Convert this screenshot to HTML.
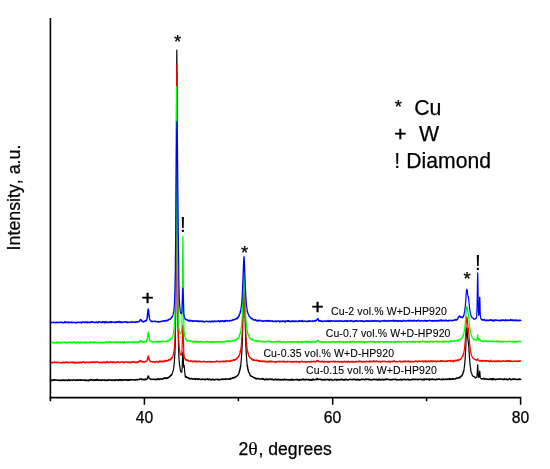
<!DOCTYPE html>
<html><head><meta charset="utf-8"><title>XRD</title>
<style>
html,body{margin:0;padding:0;background:#fff;}
svg{display:block;}
text{font-family:"Liberation Sans",sans-serif;fill:#000;stroke:#000;stroke-width:0.25px;font-kerning:none;}
.sm text{stroke-width:0.1px;}
.pl text{stroke-width:0.5px;}
.ex text{stroke-width:0;}
</style></head><body>
<svg width="550" height="469" viewBox="0 0 550 469">
<rect width="550" height="469" fill="#fff"/>
<g id="curves">
<polyline points="50.3,380.3 50.5,380.3 50.7,380.2 50.9,380.0 51.0,380.0 51.2,380.0 51.4,380.3 51.6,380.5 51.8,380.3 52.0,380.2 52.2,380.3 52.4,380.4 52.6,380.2 52.8,380.1 52.9,380.2 53.1,380.2 53.3,380.1 53.5,379.8 53.7,379.7 53.9,379.6 54.1,379.7 54.2,379.8 54.4,380.0 54.6,380.2 54.8,380.3 55.0,379.9 55.2,379.7 55.4,379.9 55.6,380.2 55.8,380.1 56.0,379.9 56.1,379.9 56.3,379.9 56.5,380.1 56.7,380.3 56.9,380.2 57.1,380.3 57.3,380.3 57.5,380.2 57.6,380.2 57.8,380.3 58.0,380.1 58.2,380.0 58.4,380.3 58.6,380.3 58.8,380.2 59.0,380.2 59.1,380.3 59.3,380.4 59.5,380.6 59.7,380.5 59.9,380.1 60.1,380.2 60.3,380.3 60.5,380.4 60.6,380.3 60.8,380.4 61.0,380.5 61.2,380.5 61.4,380.3 61.6,380.1 61.8,380.2 62.0,380.1 62.2,380.0 62.3,380.0 62.5,380.2 62.7,380.5 62.9,380.4 63.1,380.0 63.3,380.0 63.5,380.0 63.7,379.9 63.9,379.9 64.0,380.3 64.2,380.5 64.4,380.5 64.6,380.2 64.8,380.1 65.0,380.3 65.2,380.4 65.4,380.3 65.5,380.2 65.7,380.2 65.9,380.2 66.1,380.0 66.3,380.0 66.5,380.0 66.7,380.3 66.9,380.5 67.0,380.5 67.2,380.4 67.4,380.3 67.6,380.4 67.8,380.4 68.0,380.4 68.2,380.2 68.4,380.1 68.6,379.9 68.7,379.7 68.9,379.6 69.1,379.8 69.3,380.0 69.5,380.4 69.7,380.5 69.9,380.3 70.1,380.0 70.2,380.2 70.4,380.3 70.6,380.2 70.8,380.2 71.0,380.4 71.2,380.3 71.4,380.1 71.6,380.1 71.8,380.1 71.9,380.1 72.1,380.0 72.3,380.2 72.5,380.3 72.7,380.4 72.9,380.2 73.1,380.1 73.3,379.9 73.5,379.7 73.6,379.8 73.8,379.9 74.0,380.0 74.2,379.9 74.4,380.1 74.6,380.0 74.8,380.2 75.0,380.3 75.1,380.1 75.3,380.1 75.5,380.4 75.7,380.6 75.9,380.3 76.1,380.1 76.3,380.0 76.5,380.1 76.7,380.2 76.8,380.2 77.0,380.0 77.2,380.0 77.4,379.8 77.6,380.0 77.8,380.3 78.0,380.4 78.2,380.4 78.3,380.2 78.5,380.0 78.7,380.0 78.9,380.1 79.1,380.1 79.3,380.1 79.5,379.9 79.7,379.8 79.8,380.1 80.0,380.3 80.2,380.1 80.4,380.0 80.6,380.3 80.8,380.3 81.0,380.1 81.2,379.9 81.3,379.8 81.5,379.9 81.7,380.1 81.9,380.3 82.1,380.1 82.3,380.1 82.5,380.1 82.7,380.1 82.9,380.0 83.0,379.8 83.2,380.0 83.4,380.2 83.6,380.3 83.8,380.2 84.0,380.2 84.2,380.0 84.4,380.1 84.5,380.2 84.7,380.2 84.9,380.1 85.1,380.3 85.3,380.5 85.5,380.5 85.7,380.3 85.9,380.0 86.1,380.0 86.2,380.3 86.4,380.4 86.6,380.3 86.8,380.3 87.0,380.5 87.2,380.5 87.4,380.4 87.6,380.4 87.8,380.2 87.9,380.2 88.1,380.2 88.3,380.5 88.5,380.6 88.7,380.8 88.9,380.5 89.1,379.9 89.3,379.8 89.5,380.0 89.6,380.1 89.8,380.1 90.0,380.1 90.2,379.7 90.4,379.6 90.6,380.0 90.8,380.2 91.0,380.1 91.1,380.0 91.3,379.8 91.5,379.8 91.7,379.8 91.9,379.8 92.1,379.8 92.3,380.0 92.5,380.3 92.6,380.1 92.8,379.9 93.0,379.8 93.2,379.8 93.4,379.9 93.6,380.0 93.8,380.1 94.0,380.2 94.2,380.5 94.3,380.4 94.5,380.2 94.7,380.1 94.9,380.2 95.1,380.0 95.3,379.8 95.5,380.0 95.7,380.2 95.8,380.2 96.0,380.1 96.2,380.2 96.4,380.3 96.6,380.0 96.8,379.7 97.0,379.5 97.2,379.3 97.3,379.3 97.5,379.8 97.7,380.3 97.9,380.2 98.1,379.8 98.3,380.0 98.5,380.2 98.7,380.3 98.9,380.2 99.0,380.1 99.2,380.2 99.4,380.3 99.6,380.4 99.8,380.1 100.0,380.0 100.2,380.0 100.4,380.2 100.5,380.1 100.7,380.0 100.9,379.9 101.1,379.9 101.3,380.1 101.5,380.4 101.7,380.5 101.9,380.3 102.0,380.2 102.2,380.0 102.4,379.7 102.6,379.8 102.8,380.1 103.0,380.0 103.2,379.9 103.4,379.9 103.6,380.2 103.8,380.3 103.9,380.3 104.1,380.3 104.3,380.3 104.5,380.1 104.7,379.8 104.9,379.9 105.1,380.3 105.2,380.6 105.4,380.5 105.6,380.3 105.8,380.2 106.0,380.1 106.2,380.1 106.4,380.0 106.6,380.3 106.8,380.4 107.0,380.4 107.1,380.1 107.3,379.9 107.5,380.1 107.7,380.4 107.9,380.4 108.1,380.1 108.3,379.9 108.5,379.8 108.6,380.1 108.8,380.2 109.0,380.1 109.2,380.0 109.4,380.0 109.6,379.9 109.8,379.8 110.0,379.7 110.2,380.0 110.3,380.0 110.5,380.1 110.7,380.3 110.9,380.4 111.1,380.1 111.3,380.0 111.5,380.0 111.7,380.0 111.8,380.0 112.0,380.3 112.2,380.5 112.4,380.2 112.6,379.9 112.8,379.9 113.0,379.9 113.2,379.8 113.3,379.9 113.5,380.1 113.7,380.2 113.9,380.3 114.1,380.5 114.3,380.4 114.5,380.4 114.7,380.5 114.8,380.2 115.0,379.8 115.2,379.8 115.4,380.1 115.6,380.4 115.8,380.3 116.0,379.9 116.2,379.7 116.4,379.9 116.5,380.0 116.7,380.1 116.9,380.1 117.1,380.1 117.3,380.0 117.5,380.0 117.7,380.1 117.9,380.1 118.0,380.4 118.2,380.5 118.4,380.4 118.6,379.9 118.8,379.8 119.0,379.7 119.2,379.6 119.4,379.7 119.6,380.1 119.8,380.2 119.9,379.9 120.1,379.7 120.3,379.7 120.5,379.9 120.7,380.3 120.9,380.5 121.1,380.2 121.2,379.8 121.4,379.7 121.6,379.9 121.8,379.8 122.0,379.8 122.2,379.8 122.4,380.0 122.6,380.2 122.8,380.5 123.0,380.3 123.1,380.1 123.3,380.0 123.5,380.0 123.7,379.9 123.9,379.7 124.1,379.6 124.3,379.7 124.5,380.0 124.6,380.1 124.8,380.1 125.0,380.0 125.2,379.7 125.4,379.7 125.6,380.0 125.8,380.0 126.0,380.1 126.1,380.2 126.3,380.0 126.5,379.7 126.7,379.8 126.9,380.1 127.1,379.9 127.3,379.9 127.5,380.1 127.7,380.4 127.8,380.2 128.0,380.0 128.2,379.7 128.4,380.0 128.6,380.3 128.8,380.4 129.0,380.2 129.2,380.1 129.3,379.7 129.5,379.6 129.7,379.8 129.9,379.9 130.1,380.0 130.3,380.0 130.5,380.0 130.7,379.7 130.8,379.7 131.0,379.8 131.2,379.8 131.4,379.7 131.6,379.7 131.8,379.7 132.0,379.6 132.2,379.6 132.4,379.9 132.5,379.9 132.7,379.8 132.9,379.7 133.1,379.7 133.3,379.8 133.5,379.9 133.7,380.1 133.9,380.0 134.1,380.0 134.2,379.9 134.4,379.8 134.6,379.8 134.8,379.9 135.0,380.0 135.2,380.0 135.4,379.8 135.6,379.7 135.7,379.7 135.9,380.0 136.1,380.0 136.3,379.8 136.5,379.6 136.7,379.6 136.9,379.6 137.1,379.5 137.2,379.4 137.4,379.8 137.6,379.9 137.8,379.6 138.0,379.4 138.2,379.4 138.4,379.6 138.6,379.6 138.8,379.6 138.9,379.6 139.1,379.6 139.3,379.6 139.5,379.5 139.7,379.2 139.9,378.8 140.1,378.9 140.3,379.1 140.4,379.1 140.6,378.8 140.8,378.9 141.0,379.0 141.2,379.3 141.4,379.4 141.6,379.2 141.8,378.9 141.9,379.0 142.1,379.3 142.3,379.7 142.5,379.8 142.7,379.4 142.9,379.3 143.1,379.6 143.3,379.6 143.5,379.4 143.7,379.3 143.8,379.7 144.0,379.6 144.2,379.6 144.4,379.3 144.6,379.2 144.8,379.4 145.0,379.9 145.2,379.9 145.3,379.5 145.5,379.1 145.7,379.0 145.9,379.2 146.1,379.4 146.3,379.4 146.5,379.1 146.7,379.0 146.8,378.9 147.0,379.0 147.2,379.0 147.4,378.6 147.6,377.8 147.8,376.9 148.0,376.4 148.2,376.0 148.3,375.9 148.3,375.9 148.5,376.2 148.7,376.8 148.9,377.5 149.1,377.9 149.3,378.2 149.5,378.4 149.7,378.6 149.9,378.8 150.1,379.1 150.2,379.2 150.4,379.2 150.6,379.1 150.8,379.1 151.0,379.1 151.2,379.1 151.4,379.1 151.6,379.1 151.7,379.2 151.9,379.5 152.1,379.4 152.3,379.3 152.5,379.2 152.7,379.2 152.9,379.2 153.1,379.3 153.2,379.3 153.4,379.3 153.6,379.4 153.8,379.5 154.0,379.4 154.2,379.4 154.4,379.3 154.6,379.3 154.8,379.3 154.9,379.5 155.1,379.5 155.3,379.4 155.5,379.3 155.7,379.3 155.9,379.5 156.1,379.5 156.3,379.3 156.4,379.2 156.6,379.4 156.8,379.7 157.0,379.7 157.2,379.3 157.4,379.1 157.6,379.2 157.8,379.0 157.9,378.8 158.1,378.8 158.3,378.8 158.5,378.7 158.7,379.1 158.9,379.3 159.1,379.3 159.3,379.4 159.5,379.7 159.6,379.6 159.8,379.2 160.0,378.9 160.2,378.7 160.4,378.8 160.6,379.1 160.8,379.1 161.0,379.2 161.2,379.1 161.3,378.9 161.5,378.9 161.7,379.1 161.9,379.2 162.1,379.2 162.3,379.0 162.5,378.8 162.7,378.7 162.8,378.4 163.0,378.4 163.2,378.6 163.4,378.8 163.6,378.5 163.8,378.3 164.0,378.2 164.2,378.3 164.3,378.0 164.5,377.9 164.7,378.2 164.9,378.6 165.1,378.4 165.3,378.2 165.5,378.3 165.7,378.0 165.8,377.7 166.0,377.8 166.2,378.2 166.4,378.4 166.6,378.5 166.8,378.3 167.0,378.1 167.2,378.0 167.4,377.8 167.6,377.6 167.7,377.6 167.9,377.9 168.1,377.9 168.3,377.5 168.5,377.2 168.7,377.3 168.9,377.3 169.1,377.3 169.2,377.0 169.4,376.7 169.6,376.4 169.8,376.5 170.0,376.6 170.2,376.3 170.4,375.8 170.6,375.6 170.8,375.5 170.9,375.2 171.1,375.0 171.3,375.1 171.5,375.0 171.7,374.6" fill="none" stroke="#000000" stroke-width="1.45" stroke-linejoin="round" stroke-linecap="round"/>
<polyline points="171.3,375.1 171.5,375.0 171.7,374.6 171.9,374.2 172.1,373.9 172.2,373.6 172.4,373.0 172.6,372.3 172.8,371.7 173.0,371.1 173.2,370.5 173.4,369.8 173.6,368.7 173.8,367.4 173.9,366.0 174.1,364.5 174.3,362.6 174.5,359.9 174.7,356.8 174.9,353.2 175.1,348.2 175.3,341.4 175.4,331.4 175.6,317.9 175.8,298.4 176.0,269.1 176.2,225.3 176.4,167.3 176.5,125.4 176.6,95.2 176.8,50.8 176.8,50.0 177.0,75.8 177.0,88.5 177.2,144.6 177.3,208.0 177.5,257.1 177.7,290.1 177.9,312.1 178.1,327.1 178.3,337.6 178.5,345.2 178.7,351.1 178.8,355.5 179.0,358.7 179.2,361.3 179.4,363.7 179.6,365.2 179.8,366.4 180.0,367.5 180.2,369.1 180.3,370.3 180.5,370.9 180.7,371.1 180.9,371.8 181.1,372.2 181.3,372.1 181.5,372.1 181.7,372.1 181.8,371.5 182.0,369.9 182.2,367.3 182.4,363.4 182.6,358.3 182.8,353.5 182.9,352.2 183.0,352.5 183.2,356.8 183.4,362.2 183.6,365.9 183.7,367.2 183.9,366.5 184.1,365.5 184.3,366.3 184.5,369.0 184.7,371.5 184.9,373.6 185.1,374.7 185.2,375.5 185.4,376.3 185.6,376.9" fill="none" stroke="#000000" stroke-width="1.2" stroke-linejoin="round" stroke-linecap="round"/>
<polyline points="185.4,376.3 185.6,376.9 185.8,377.2 186.0,377.4 186.2,377.1 186.4,376.8 186.6,376.8 186.7,377.1 186.9,377.3 187.1,377.4 187.3,377.4 187.5,377.4 187.7,377.7 187.9,377.8 188.1,378.0 188.2,378.0 188.4,378.0 188.6,378.0 188.8,377.8 189.0,377.9 189.2,378.3 189.4,378.9 189.6,379.1 189.8,379.0 189.9,378.6 190.1,378.6 190.3,378.7 190.5,378.7 190.7,378.5 190.9,378.6 191.1,378.6 191.3,378.6 191.4,378.5 191.6,378.5 191.8,378.8 192.0,379.1 192.2,379.0 192.4,378.8 192.6,379.0 192.8,378.9 193.0,378.7 193.1,378.8 193.3,379.1 193.5,379.1 193.7,379.2 193.9,379.2 194.1,379.0 194.3,378.9 194.5,379.1 194.7,379.0 194.8,378.8 195.0,378.6 195.2,379.0 195.4,379.2 195.6,379.4 195.8,379.2 196.0,379.1 196.2,379.0 196.3,379.1 196.5,379.1 196.7,379.1 196.9,378.8 197.1,378.7 197.3,378.7 197.5,378.8 197.7,379.0 197.8,379.2 198.0,379.5 198.2,379.5 198.4,379.2 198.6,378.9 198.8,378.8 199.0,378.9 199.2,379.0 199.3,379.1 199.5,379.0 199.7,379.0 199.9,379.2 200.1,379.4 200.3,379.4 200.5,379.5 200.7,379.5 200.9,379.6 201.1,379.6 201.2,379.6 201.4,379.5 201.6,379.3 201.8,379.1 202.0,379.1 202.2,379.3 202.4,379.2 202.6,379.4 202.7,379.5 202.9,379.5 203.1,379.0 203.3,378.9 203.5,379.1 203.7,379.3 203.9,379.3 204.1,379.3 204.2,379.4 204.4,379.4 204.6,379.4 204.8,379.5 205.0,379.9 205.2,379.9 205.4,379.5 205.6,379.1 205.8,379.3 205.9,379.3 206.1,379.3 206.3,379.2 206.5,379.3 206.7,379.2 206.9,379.1 207.1,379.0 207.3,378.8 207.4,378.9 207.6,379.2 207.8,379.4 208.0,379.2 208.2,379.1 208.4,379.3 208.6,379.6 208.8,379.7 208.9,379.4 209.1,379.4 209.3,379.4 209.5,379.3 209.7,379.1 209.9,379.4 210.1,379.7 210.3,379.8 210.5,379.6 210.7,379.6 210.8,379.5 211.0,379.5 211.2,379.7 211.4,380.0 211.6,379.8 211.8,379.5 212.0,379.4 212.2,379.7 212.3,379.7 212.5,379.3 212.7,379.1 212.9,379.2 213.1,379.4 213.3,379.6 213.5,379.8 213.7,379.8 213.8,379.5 214.0,379.5 214.2,379.7 214.4,380.0 214.6,379.9 214.8,379.6 215.0,379.7 215.2,379.7 215.3,379.5 215.5,379.4 215.7,379.6 215.9,379.6 216.1,379.5 216.3,379.4 216.5,379.4 216.7,379.4 216.9,379.3 217.1,379.2 217.2,379.4 217.4,379.5 217.6,379.3 217.8,379.3 218.0,379.4 218.2,379.3 218.4,379.2 218.6,379.4 218.7,379.7 218.9,380.2 219.1,380.0 219.3,379.7 219.5,379.5 219.7,379.5 219.9,379.6 220.1,379.5 220.2,379.4 220.4,379.4 220.6,379.6 220.8,379.6 221.0,379.5 221.2,379.3 221.4,379.4 221.6,379.5 221.8,379.5 221.9,379.3 222.1,379.0 222.3,378.9 222.5,379.3 222.7,379.5 222.9,379.4 223.1,379.4 223.3,379.4 223.4,379.2 223.6,379.0 223.8,379.2 224.0,379.2 224.2,379.2 224.4,379.2 224.6,379.1 224.8,379.0 224.9,379.2 225.1,379.1 225.3,378.8 225.5,379.0 225.7,379.4 225.9,379.4 226.1,379.2 226.3,379.2 226.5,379.2 226.6,379.0 226.8,379.0 227.0,379.0 227.2,378.8 227.4,378.8 227.6,378.9 227.8,378.9 228.0,378.8 228.2,378.9 228.3,379.1 228.5,379.1 228.7,379.2 228.9,379.2 229.1,379.3 229.3,379.2 229.5,379.0 229.7,378.7 229.8,379.0 230.0,379.2 230.2,378.9 230.4,378.3 230.6,378.2 230.8,378.6 231.0,378.8 231.2,378.7 231.3,378.6 231.5,378.6 231.7,378.5 231.9,378.5 232.1,378.2 232.3,378.0 232.5,377.9 232.7,378.2 232.8,378.1 233.0,378.0 233.2,377.8 233.4,377.8 233.6,377.6 233.8,377.3 234.0,377.3 234.2,377.5 234.4,377.8 234.6,377.7 234.7,377.6 234.9,377.5 235.1,377.4 235.3,377.2 235.5,377.3 235.7,377.1 235.9,376.8 236.1,376.6 236.2,376.5 236.4,376.3 236.6,376.2 236.8,376.1 237.0,376.0 237.2,375.7 237.4,375.5 237.6,375.3 237.8,375.1 237.9,375.0 238.1,374.9 238.3,374.7 238.5,374.3 238.7,373.8 238.9,373.0 239.1,372.5 239.2,372.2 239.4,371.6 239.6,370.9 239.8,370.0 240.0,369.1 240.2,368.1 240.4,367.2 240.6,366.1" fill="none" stroke="#000000" stroke-width="1.45" stroke-linejoin="round" stroke-linecap="round"/>
<polyline points="240.4,367.2 240.6,366.1 240.8,364.9 240.9,363.3 241.1,361.7 241.3,359.5 241.5,356.8 241.7,353.7 241.9,350.1 242.1,345.9 242.3,341.6 242.4,335.8 242.6,328.6 242.8,319.7 243.0,309.7 243.2,299.1 243.4,287.4 243.6,276.4 243.8,268.2 244.0,264.4 244.0,264.1 244.2,265.5 244.3,271.8 244.5,282.0 244.7,293.8 244.9,305.3 245.1,316.1 245.3,325.1 245.5,332.3 245.7,338.9 245.8,344.6 246.0,349.0 246.2,352.7 246.4,355.6 246.6,358.3 246.8,361.0 247.0,363.4 247.2,364.8 247.3,365.7 247.5,366.7" fill="none" stroke="#000000" stroke-width="1.2" stroke-linejoin="round" stroke-linecap="round"/>
<polyline points="247.3,365.7 247.5,366.7 247.7,368.1 247.9,369.1 248.1,369.8 248.3,370.5 248.5,371.5 248.7,372.1 248.8,372.3 249.0,372.5 249.2,372.8 249.4,373.1 249.6,373.6 249.8,374.2 250.0,374.7 250.2,375.2 250.4,375.7 250.5,375.7 250.7,375.7 250.9,376.0 251.1,376.2 251.3,376.1 251.5,376.1 251.7,376.2 251.9,376.5 252.1,376.5 252.2,376.5 252.4,376.5 252.6,376.9 252.8,377.1 253.0,377.3 253.2,377.4 253.4,377.6 253.6,377.5 253.7,377.4 253.9,377.4 254.1,377.7 254.3,377.8 254.5,377.9 254.7,377.7 254.9,377.9 255.1,378.2 255.2,378.2 255.4,378.3 255.6,378.8 255.8,378.8 256.0,378.4 256.2,378.5 256.4,379.0 256.6,378.9 256.8,378.6 256.9,378.4 257.1,378.4 257.3,378.4 257.5,378.6 257.7,378.7 257.9,378.6 258.1,378.4 258.3,378.4 258.4,378.5 258.6,378.6 258.8,378.8 259.0,379.0 259.2,379.1 259.4,379.0 259.6,379.0 259.8,378.9 259.9,378.9 260.1,379.0 260.3,378.9 260.5,379.0 260.7,379.1 260.9,379.1 261.1,378.8 261.3,378.8 261.5,378.9 261.6,378.9 261.8,379.1 262.0,379.1 262.2,378.8 262.4,378.5 262.6,378.5 262.8,378.7 263.0,379.0 263.1,379.4 263.3,379.3 263.5,378.9 263.7,379.1 263.9,379.5 264.1,379.5 264.3,379.4 264.5,379.7 264.7,380.0 264.9,379.8 265.0,379.5 265.2,379.4 265.4,379.4 265.6,379.1 265.8,379.0 266.0,379.1 266.2,379.1 266.4,379.2 266.5,379.6 266.7,379.7 266.9,379.5 267.1,379.2 267.3,379.4 267.5,379.6 267.7,379.6 267.9,379.3 268.1,379.0 268.2,378.9 268.4,379.1 268.6,379.4 268.8,379.4 269.0,379.2 269.2,379.2 269.4,379.4 269.6,379.5 269.7,379.4 269.9,379.1 270.1,378.9 270.3,379.2 270.5,379.3 270.7,379.2 270.9,379.2 271.1,379.4 271.2,379.3 271.4,379.3 271.6,379.4 271.8,379.5 272.0,379.2 272.2,379.1 272.4,379.1 272.6,379.3 272.8,379.3 272.9,379.6 273.1,379.8 273.3,379.7 273.5,379.6 273.7,379.8 273.9,380.0 274.1,380.0 274.3,379.9 274.4,379.6 274.6,379.6 274.8,379.5 275.0,379.4 275.2,379.3 275.4,379.4 275.6,379.2 275.8,379.1 275.9,379.2 276.1,379.5 276.3,379.8 276.5,379.8 276.7,379.6 276.9,379.4 277.1,379.4 277.3,379.5 277.5,379.6 277.6,379.9 277.8,380.0 278.0,379.6 278.2,379.2 278.4,379.1 278.6,379.1 278.8,379.3 279.0,379.7 279.1,379.6 279.3,379.4 279.5,379.7 279.7,379.9 279.9,379.6 280.1,379.4 280.3,379.5 280.5,379.7 280.7,379.9 280.8,380.0 281.0,380.1 281.2,380.1 281.4,380.1 281.6,379.7 281.8,379.4 282.0,379.4 282.2,379.6 282.4,379.7 282.5,379.7 282.7,379.5 282.9,379.6 283.1,379.8 283.3,379.9 283.5,379.8 283.7,379.9 283.9,380.0 284.0,379.5 284.2,379.1 284.4,379.2 284.6,379.3 284.8,379.4 285.0,379.7 285.2,379.8 285.4,379.5 285.6,379.6 285.7,379.8 285.9,379.6 286.1,379.4 286.3,379.6 286.5,379.7 286.7,379.7 286.9,379.6 287.1,379.5 287.2,379.4 287.4,379.7 287.6,379.7 287.8,379.7 288.0,379.6 288.2,380.0 288.4,380.1 288.6,380.0 288.8,379.8 288.9,379.8 289.1,379.7 289.3,379.9 289.5,380.0 289.7,380.0 289.9,379.8 290.1,379.5 290.2,379.5 290.4,379.7 290.6,380.0 290.8,380.0 291.0,380.0 291.2,380.1 291.4,380.1 291.6,379.7 291.8,379.3 291.9,379.1 292.1,379.4 292.3,379.7 292.5,379.8 292.7,379.8 292.9,380.1 293.1,380.2 293.3,380.0 293.4,379.7 293.6,379.6 293.8,379.7 294.0,379.6 294.2,379.6 294.4,379.8 294.6,379.7 294.8,379.6 295.0,379.4 295.1,379.5 295.3,379.7 295.5,379.8 295.7,379.8 295.9,379.6 296.1,379.6 296.3,379.6 296.5,379.8 296.6,379.7 296.8,379.5 297.0,379.1 297.2,379.2 297.4,379.8 297.6,380.0 297.8,379.9 298.0,379.6 298.2,379.6 298.4,380.0 298.5,380.2 298.7,379.9 298.9,379.4 299.1,379.5 299.3,380.0 299.5,380.3 299.7,380.3 299.9,380.0 300.0,379.8 300.2,379.7 300.4,379.6 300.6,379.6 300.8,379.5 301.0,379.8 301.2,379.9 301.4,379.9 301.6,379.7 301.7,379.4 301.9,379.4 302.1,379.4 302.3,379.4 302.5,379.2 302.7,379.2 302.9,379.2 303.1,379.1 303.2,379.0 303.4,379.2 303.6,379.6 303.8,380.0 304.0,379.9 304.2,379.6 304.4,379.5 304.6,379.7 304.8,379.7 304.9,379.8 305.1,379.9 305.3,379.7 305.5,379.3 305.7,379.3 305.9,379.6 306.1,379.6 306.2,379.3 306.4,379.4 306.6,379.7 306.8,379.8 307.0,379.7 307.2,379.8 307.4,379.6 307.6,379.4 307.8,379.4 307.9,379.6 308.1,379.4 308.3,379.2 308.5,379.4 308.7,380.0 308.9,379.8 309.1,379.8 309.3,379.7 309.4,379.9 309.6,379.8 309.8,380.1 310.0,380.0 310.2,379.7 310.4,379.5 310.6,379.6 310.8,379.3 311.0,379.5 311.1,380.0 311.3,380.3 311.5,380.0 311.7,379.9 311.9,380.0 312.1,380.3 312.3,380.1 312.5,379.7 312.6,379.4 312.8,379.2 313.0,379.0 313.2,379.1 313.4,379.3 313.6,379.5 313.8,379.5 314.0,379.8 314.2,380.1 314.3,380.1 314.5,379.9 314.7,379.7 314.9,379.6 315.1,379.6 315.3,379.6 315.5,379.5 315.7,379.2 315.9,379.3 316.0,379.6 316.2,379.7 316.4,379.5 316.6,379.2 316.8,378.9 317.0,378.6 317.2,378.8 317.4,379.3 317.5,379.5 317.7,379.2 317.9,379.0 318.1,379.0 318.3,379.3 318.5,379.4 318.7,379.5 318.9,379.6 319.1,379.6 319.2,379.5 319.4,379.2 319.6,379.2 319.8,379.1 320.0,379.3 320.2,379.3 320.4,379.4 320.6,379.6 320.7,379.6 320.9,379.3 321.1,379.2 321.3,379.5 321.5,379.9 321.7,380.1 321.9,380.0 322.1,379.9 322.2,379.7 322.4,379.7 322.6,379.7 322.8,379.4 323.0,379.4 323.2,380.0 323.4,380.1 323.6,379.7 323.8,379.5 323.9,379.6 324.1,379.5 324.3,379.3 324.5,379.4 324.7,379.7 324.9,379.9 325.1,379.9 325.3,380.1 325.4,380.0 325.6,379.8 325.8,379.4 326.0,379.2 326.2,379.4 326.4,379.6 326.6,379.7 326.8,379.6 326.9,379.6 327.1,379.4 327.3,379.4 327.5,379.5 327.7,379.6 327.9,379.8 328.1,379.8 328.3,379.5 328.5,379.5 328.6,379.6 328.8,379.8 329.0,380.1 329.2,380.4 329.4,380.1 329.6,379.7 329.8,379.5 330.0,379.4 330.1,379.3 330.3,379.3 330.5,379.4 330.7,379.6 330.9,379.7 331.1,379.6 331.3,379.4 331.5,379.6 331.7,379.9 331.9,380.2 332.0,380.1 332.2,380.2 332.4,380.0 332.6,379.9 332.8,380.1 333.0,380.1 333.2,379.9 333.4,379.9 333.5,380.1 333.7,380.0 333.9,380.0 334.1,379.9 334.3,379.7 334.5,379.5 334.7,379.5 334.9,379.3 335.1,379.4 335.2,379.6 335.4,379.7 335.6,379.6 335.8,379.7 336.0,380.0 336.2,380.2 336.4,379.9 336.6,379.7 336.7,379.6 336.9,379.8 337.1,379.6 337.3,379.5 337.5,379.9 337.7,380.0 337.9,379.8 338.1,379.6 338.2,379.8 338.4,379.8 338.6,379.7 338.8,379.6 339.0,379.7 339.2,379.9 339.4,379.7 339.6,379.6 339.8,379.6 339.9,379.8 340.1,379.8 340.3,379.8 340.5,379.5 340.7,379.6 340.9,379.6 341.1,379.4 341.3,379.1 341.4,379.2 341.6,379.4 341.8,379.6 342.0,379.7 342.2,379.5 342.4,379.5 342.6,379.8 342.8,380.0 342.9,380.0 343.1,379.8 343.3,379.5 343.5,379.7 343.7,380.0 343.9,380.0 344.1,379.8 344.3,379.6 344.5,379.5 344.6,379.7 344.8,379.9 345.0,379.7 345.2,379.4 345.4,379.5 345.6,379.8 345.8,379.8 346.0,379.6 346.1,379.5 346.3,379.3 346.5,379.2 346.7,379.3 346.9,379.6 347.1,379.7 347.3,379.8 347.5,380.0 347.7,379.9 347.8,380.0 348.0,380.1 348.2,380.0 348.4,379.7 348.6,379.8 348.8,379.7 349.0,379.5 349.2,379.5 349.4,379.4 349.5,379.2 349.7,379.3 349.9,379.5 350.1,379.3 350.3,379.2 350.5,379.3 350.7,379.6 350.9,379.5 351.0,379.5 351.2,379.4 351.4,379.4 351.6,379.6 351.8,379.7 352.0,379.6 352.2,379.6 352.4,379.7 352.6,379.6 352.7,379.5 352.9,379.8 353.1,379.6 353.3,379.2 353.5,379.1 353.7,379.2 353.9,379.2 354.1,379.2 354.2,379.4 354.4,379.5 354.6,379.5 354.8,379.6 355.0,379.6 355.2,379.5 355.4,379.7 355.6,380.0 355.8,379.8 355.9,379.5 356.1,379.4 356.3,379.5 356.5,379.7 356.7,379.7 356.9,379.5 357.1,379.6 357.2,379.7 357.4,379.7 357.6,379.5 357.8,379.3 358.0,379.3 358.2,379.7 358.4,379.9 358.6,379.7 358.8,379.4 358.9,379.4 359.1,379.6 359.3,379.7 359.5,380.0 359.7,380.0 359.9,380.1 360.1,379.9 360.3,379.9 360.4,379.6 360.6,379.4 360.8,379.4 361.0,379.5 361.2,379.3 361.4,379.3 361.6,379.5 361.8,379.6 362.0,379.4 362.1,379.5 362.3,379.6 362.5,379.5 362.7,379.3 362.9,379.3 363.1,379.6 363.3,379.6 363.5,379.5 363.6,379.3 363.8,379.4 364.0,379.6 364.2,379.7 364.4,379.7 364.6,379.8 364.8,379.9 365.0,379.7 365.2,379.5 365.4,379.2 365.5,379.0 365.7,379.1 365.9,379.3 366.1,379.4 366.3,379.5 366.5,379.3 366.7,379.3 366.9,379.3 367.0,379.3 367.2,379.3 367.4,379.3 367.6,379.2 367.8,379.1 368.0,379.2 368.2,379.5 368.4,379.8 368.6,379.6 368.7,379.4 368.9,379.2 369.1,379.4 369.3,379.3 369.5,379.4 369.7,379.5 369.9,379.6 370.1,379.4 370.2,379.7 370.4,379.9 370.6,379.9 370.8,379.8 371.0,379.9 371.2,380.0 371.4,379.9 371.6,379.9 371.8,379.8 371.9,379.8 372.1,379.5 372.3,379.4 372.5,379.5 372.7,379.5 372.9,379.5 373.1,379.6 373.2,379.8 373.4,379.4 373.6,379.2 373.8,379.4 374.0,379.6 374.2,379.5 374.4,379.2 374.6,379.2 374.8,379.3 374.9,379.6 375.1,379.4 375.3,379.4 375.5,379.4 375.7,379.7 375.9,379.6 376.1,379.4 376.3,379.6 376.4,379.8 376.6,379.6 376.8,379.3 377.0,379.3 377.2,379.5 377.4,379.9 377.6,379.9 377.8,379.4 378.0,379.3 378.1,379.7 378.3,380.0 378.5,380.0 378.7,379.8 378.9,379.5 379.1,379.3 379.3,379.1 379.5,379.3 379.6,379.5 379.8,379.8 380.0,379.9 380.2,379.8 380.4,379.6 380.6,379.8 380.8,380.0 381.0,379.7 381.2,379.4 381.3,379.6 381.5,379.8 381.7,379.5 381.9,379.5 382.1,379.7 382.3,379.6 382.5,379.3 382.7,379.3 382.9,379.4 383.0,379.5 383.2,379.7 383.4,379.9 383.6,379.6 383.8,379.4 384.0,379.5 384.2,379.8 384.4,379.9 384.5,379.7 384.7,379.5 384.9,379.4 385.1,379.5 385.3,379.2 385.5,379.2 385.7,379.4 385.9,379.5 386.1,379.2 386.2,379.1 386.4,379.0 386.6,379.1 386.8,379.4 387.0,379.3 387.2,379.3 387.4,379.3 387.6,379.3 387.7,379.3 387.9,379.5 388.1,379.4 388.3,379.5 388.5,379.6 388.7,379.6 388.9,379.5 389.1,379.8 389.2,379.8 389.4,379.8 389.6,379.6 389.8,379.7 390.0,379.6 390.2,379.5 390.4,379.6 390.6,379.9 390.8,379.8 390.9,379.9 391.1,380.0 391.3,379.8 391.5,379.5 391.7,379.4 391.9,379.5 392.1,379.7 392.3,379.8 392.4,379.5 392.6,379.4 392.8,379.5 393.0,379.4 393.2,379.4 393.4,379.3 393.6,379.2 393.8,379.2 393.9,379.4 394.1,379.5 394.3,379.4 394.5,379.4 394.7,379.5 394.9,379.5 395.1,379.2 395.3,379.1 395.5,379.2 395.6,379.3 395.8,379.4 396.0,379.5 396.2,379.8 396.4,380.0 396.6,379.9 396.8,379.5 397.0,379.4 397.1,379.6 397.3,379.8 397.5,379.8 397.7,379.8 397.9,379.8 398.1,379.9 398.3,379.8 398.5,379.7 398.7,379.7 398.9,379.6 399.0,379.7 399.2,379.7 399.4,379.8 399.6,379.8 399.8,379.8 400.0,379.7 400.2,379.6 400.4,379.7 400.5,379.8 400.7,379.5 400.9,379.2 401.1,379.2 401.3,379.6 401.5,379.9 401.7,379.9 401.9,379.6 402.1,379.5 402.2,379.5 402.4,379.9 402.6,379.8 402.8,379.7 403.0,379.6 403.2,379.5 403.4,379.4 403.6,379.3 403.7,379.2 403.9,379.1 404.1,379.4 404.3,379.6 404.5,379.3 404.7,379.4 404.9,379.6 405.1,379.8 405.2,379.9 405.4,379.8 405.6,379.7 405.8,379.6 406.0,379.5 406.2,379.4 406.4,379.5 406.6,379.6 406.8,379.7 406.9,379.6 407.1,379.4 407.3,379.5 407.5,379.4 407.7,379.3 407.9,379.3 408.1,379.4 408.3,379.4 408.4,379.3 408.6,379.6 408.8,379.9 409.0,380.0 409.2,379.7 409.4,379.8 409.6,379.9 409.8,379.8 409.9,379.5 410.1,379.6 410.3,379.7 410.5,379.8 410.7,379.9 410.9,379.8 411.1,379.7 411.3,379.4 411.5,379.6 411.6,379.6 411.8,379.6 412.0,379.5 412.2,379.8 412.4,379.7 412.6,379.4 412.8,379.1 413.0,379.2 413.1,379.3 413.3,379.4 413.5,379.3 413.7,379.3 413.9,379.2 414.1,379.4 414.3,379.7 414.5,379.6 414.7,379.3 414.8,379.2 415.0,379.4 415.2,379.4 415.4,379.3 415.6,379.2 415.8,379.3 416.0,379.5 416.2,379.5 416.4,379.5 416.5,379.5 416.7,379.3 416.9,379.2 417.1,379.4 417.3,379.6 417.5,379.6 417.7,379.8 417.9,379.7 418.0,379.3 418.2,379.4 418.4,379.8 418.6,379.8 418.8,379.4 419.0,379.1 419.2,379.1 419.4,379.1 419.6,379.1 419.7,379.1 419.9,379.1 420.1,379.2 420.3,379.4 420.5,379.4 420.7,379.4 420.9,379.6 421.1,379.6 421.2,379.5 421.4,379.3 421.6,379.5 421.8,379.7 422.0,379.6 422.2,379.3 422.4,379.4 422.6,379.6 422.8,379.8 422.9,380.0 423.1,379.8 423.3,379.5 423.5,379.2 423.7,379.2 423.9,379.3 424.1,379.8 424.2,379.9 424.4,379.5 424.6,379.0 424.8,379.1 425.0,379.2 425.2,379.1 425.4,379.1 425.6,379.3 425.8,379.4 425.9,379.3 426.1,379.3 426.3,379.4 426.5,379.4 426.7,379.1 426.9,379.0 427.1,379.2 427.3,379.2 427.4,379.2 427.6,379.3 427.8,379.5 428.0,379.5 428.2,379.3 428.4,379.4 428.6,379.6 428.8,379.8 429.0,379.4 429.1,379.0 429.3,379.1 429.5,379.7 429.7,379.9 429.9,379.8 430.1,379.6 430.3,379.4 430.5,379.3 430.6,379.4 430.8,379.3 431.0,379.3 431.2,379.5 431.4,379.6 431.6,379.2 431.8,379.0 432.0,379.2 432.2,379.0 432.4,379.0 432.5,379.3 432.7,379.5 432.9,379.6 433.1,379.7 433.3,379.6 433.5,379.3 433.7,379.2 433.9,379.1 434.0,379.2 434.2,379.3 434.4,379.3 434.6,379.4 434.8,379.7 435.0,379.8 435.2,379.7 435.4,379.6 435.6,379.7 435.7,379.7 435.9,379.8 436.1,379.6 436.3,379.4 436.5,379.0 436.7,379.0 436.9,379.2 437.1,379.6 437.2,379.6 437.4,379.4 437.6,379.2 437.8,379.2 438.0,379.0 438.2,379.0 438.4,379.0 438.6,379.0 438.7,379.1 438.9,379.3 439.1,379.1 439.3,378.9 439.5,379.2 439.7,379.3 439.9,379.5 440.1,379.5 440.2,379.6 440.4,379.2 440.6,379.2 440.8,379.6 441.0,379.6 441.2,379.3 441.4,379.3 441.6,379.5 441.8,379.7 441.9,379.6 442.1,379.5 442.3,379.2 442.5,379.4 442.7,379.4 442.9,379.1 443.1,378.8 443.3,379.0 443.4,379.4 443.6,379.5 443.8,379.4 444.0,379.3 444.2,379.5 444.4,379.6 444.6,379.5 444.8,379.5 445.0,379.4 445.1,379.2 445.3,379.2 445.5,379.1 445.7,379.2 445.9,379.1 446.1,379.2 446.3,379.4 446.5,379.5 446.6,379.2 446.8,379.0 447.0,379.1 447.2,379.3 447.4,379.4 447.6,379.4 447.8,379.3 448.0,379.2 448.1,378.9 448.3,379.0 448.5,379.1 448.7,379.2 448.9,379.2 449.1,379.4 449.3,379.0 449.5,378.7 449.7,378.6 449.9,378.9 450.0,379.4 450.2,379.6 450.4,379.3 450.6,379.0 450.8,379.0 451.0,379.1 451.2,379.3 451.4,379.2 451.5,379.2 451.7,379.0 451.9,379.0 452.1,379.0 452.3,379.3 452.5,379.1 452.7,378.7 452.9,378.6 453.1,378.7 453.2,378.9 453.4,378.9 453.6,378.8 453.8,378.8 454.0,379.0 454.2,379.0 454.4,379.1 454.6,379.1 454.7,379.1 454.9,379.0 455.1,379.1 455.3,378.8 455.5,378.7 455.7,378.6 455.9,378.7 456.1,378.4 456.2,378.1 456.4,378.0 456.6,378.1 456.8,378.3 457.0,378.2 457.2,378.3 457.4,378.4 457.6,378.4 457.8,378.1 457.9,377.9 458.1,377.7 458.3,377.7 458.5,377.8 458.7,377.8 458.9,377.7 459.1,377.5 459.3,377.4 459.4,377.4 459.6,377.7 459.8,377.9 460.0,377.6 460.2,377.0 460.4,376.6 460.6,376.3 460.8,376.4 460.9,376.5 461.1,376.4 461.3,376.1 461.5,376.0 461.7,376.0 461.9,375.8 462.1,375.3 462.3,374.8 462.5,374.6 462.6,374.2 462.8,373.7 463.0,372.9 463.2,372.3 463.4,371.8 463.6,371.7" fill="none" stroke="#000000" stroke-width="1.45" stroke-linejoin="round" stroke-linecap="round"/>
<polyline points="463.4,371.8 463.6,371.7 463.8,371.0 464.0,369.9 464.1,368.6 464.3,367.3 464.5,365.5 464.7,363.6 464.9,361.6 465.1,359.3 465.3,356.3 465.5,352.6 465.7,348.6 465.9,344.3 466.0,339.7 466.2,335.3 466.4,331.5 466.6,328.9 466.7,328.2 466.8,327.7 467.0,328.4 467.2,330.7 467.4,333.7 467.5,336.2 467.7,338.1 467.9,339.6 468.1,340.8 468.3,342.2 468.5,343.8 468.7,345.8 468.9,348.1 469.0,350.5 469.2,353.4 469.4,356.5 469.6,359.3 469.8,361.7 470.0,364.0 470.2,365.8 470.4,367.2 470.6,368.2 470.7,369.6 470.9,371.1 471.1,372.1 471.3,372.5 471.5,372.8 471.7,373.4 471.9,374.0 472.1,374.5 472.2,375.1 472.4,375.5 472.6,375.7 472.8,375.9 473.0,376.3 473.2,376.4 473.4,376.4 473.6,376.5 473.8,376.6 473.9,376.6 474.1,376.8 474.3,376.9 474.5,376.8 474.7,376.7 474.9,377.2 475.1,377.8 475.3,378.1 475.4,378.0 475.6,377.8 475.8,377.6 476.0,377.6 476.2,377.5 476.4,377.3 476.6,377.2 476.8,377.1 476.9,376.5 477.1,375.0 477.3,371.8 477.5,367.6 477.7,364.9 477.9,367.6 478.1,372.2 478.3,375.3 478.4,376.7 478.6,377.1 478.8,377.4 479.0,377.3 479.2,376.5 479.4,374.3 479.6,371.9 479.7,371.1 479.8,371.6 480.0,373.8 480.1,376.0 480.3,377.4 480.5,378.1 480.7,378.3 480.9,378.4 481.1,378.7 481.3,378.9 481.5,378.8 481.6,378.7" fill="none" stroke="#000000" stroke-width="1.2" stroke-linejoin="round" stroke-linecap="round"/>
<polyline points="481.5,378.8 481.6,378.7 481.8,378.8 482.0,378.8 482.2,378.8 482.4,378.6 482.6,378.6 482.8,378.7 483.0,378.8 483.2,378.9 483.4,378.8 483.5,378.4 483.7,378.2 483.9,378.3 484.1,378.6 484.3,378.9 484.5,379.2 484.7,379.1 484.9,378.9 485.0,378.9 485.2,378.9 485.4,378.8 485.6,378.7 485.8,378.9 486.0,379.1 486.2,379.3 486.4,379.2 486.6,379.1 486.7,379.0 486.9,379.1 487.1,379.2 487.3,379.3 487.5,379.1 487.7,378.9 487.9,379.1 488.1,379.3 488.2,379.2 488.4,379.2 488.6,379.5 488.8,379.5 489.0,379.3 489.2,379.4 489.4,379.5 489.6,379.5 489.8,379.3 489.9,379.0 490.1,378.7 490.3,378.8 490.5,379.1 490.7,379.2 490.9,379.0 491.1,378.7 491.2,378.7 491.4,378.8 491.6,379.0 491.8,379.3 492.0,379.8 492.2,379.9 492.4,379.6 492.6,379.1 492.8,378.5 492.9,378.4 493.1,378.6 493.3,379.2 493.5,379.4 493.7,379.5 493.9,379.4 494.1,379.4 494.3,379.5 494.4,379.4 494.6,379.1 494.8,378.8 495.0,379.1 495.2,379.5 495.4,379.7 495.6,379.4 495.8,379.1 496.0,379.1 496.1,379.2 496.3,379.2 496.5,379.3 496.7,379.2 496.9,379.3 497.1,379.4 497.3,379.3 497.5,379.2 497.6,379.1 497.8,379.2 498.0,379.3 498.2,379.3 498.4,379.2 498.6,379.0 498.8,379.0 499.0,379.1 499.2,379.2 499.4,379.3 499.5,379.2 499.7,378.9 499.9,378.8 500.1,378.9 500.3,378.9 500.5,379.0 500.7,379.2 500.9,379.3 501.0,379.2 501.2,379.2 501.4,379.2 501.6,379.1 501.8,379.2 502.0,379.3 502.2,379.3 502.4,379.0 502.5,379.0 502.7,379.2 502.9,379.3 503.1,379.1 503.3,379.1 503.5,379.5 503.7,379.7 503.9,379.5 504.1,379.3 504.2,379.0 504.4,378.8 504.6,378.9 504.8,379.3 505.0,379.4 505.2,379.3 505.4,379.1 505.6,379.1 505.7,379.2 505.9,379.2 506.1,379.0 506.3,379.0 506.5,379.1 506.7,379.6 506.9,379.8 507.1,379.6 507.2,379.5 507.4,379.6 507.6,379.8 507.8,379.8 508.0,379.6 508.2,379.4 508.4,379.3 508.6,379.4 508.8,379.4 508.9,379.2 509.1,378.9 509.3,378.7 509.5,378.6 509.7,378.8 509.9,379.0 510.1,379.1 510.3,379.0 510.4,379.3 510.6,379.5 510.8,379.6 511.0,379.8 511.2,379.6 511.4,379.4 511.6,379.4 511.8,379.5 511.9,379.5 512.1,379.4 512.3,379.2 512.5,379.0 512.7,378.9 512.9,379.0 513.1,379.0 513.3,378.9 513.5,379.0 513.6,379.2 513.8,379.4 514.0,379.1 514.2,378.9 514.4,378.8 514.6,379.1 514.8,379.1 515.0,379.3 515.1,379.3 515.3,379.4 515.5,379.3 515.7,379.3 515.9,379.3 516.1,379.4 516.3,379.5 516.5,379.5 516.7,379.3 516.9,379.3 517.0,379.5 517.2,379.6 517.4,379.6 517.6,379.5 517.8,379.5 518.0,379.5 518.2,379.5 518.4,379.2 518.5,379.0 518.7,379.3 518.9,379.3 519.1,379.0 519.3,379.0 519.5,379.3 519.7,379.6 519.9,379.4 520.0,379.1 520.2,379.1 520.4,379.5 520.6,379.4 520.8,379.3" fill="none" stroke="#000000" stroke-width="1.45" stroke-linejoin="round" stroke-linecap="round"/>
<polyline points="50.3,362.1 50.5,362.2 50.7,362.4 50.9,362.1 51.0,362.1 51.2,362.5 51.4,362.6 51.6,362.5 51.8,362.4 52.0,362.8 52.2,362.9 52.4,362.8 52.6,362.6 52.8,362.7 52.9,362.6 53.1,362.5 53.3,362.5 53.5,362.3 53.7,362.3 53.9,362.6 54.1,362.6 54.2,362.4 54.4,362.3 54.6,362.1 54.8,362.0 55.0,362.2 55.2,362.3 55.4,362.6 55.6,362.6 55.8,362.6 56.0,362.6 56.1,362.5 56.3,362.4 56.5,362.3 56.7,362.4 56.9,362.6 57.1,362.7 57.3,362.4 57.5,362.2 57.6,362.2 57.8,362.4 58.0,362.5 58.2,362.4 58.4,362.4 58.6,362.6 58.8,362.6 59.0,362.6 59.1,362.6 59.3,362.5 59.5,362.4 59.7,362.3 59.9,362.3 60.1,362.3 60.3,362.6 60.5,362.9 60.6,362.9 60.8,362.8 61.0,362.7 61.2,362.7 61.4,362.6 61.6,362.7 61.8,362.9 62.0,362.9 62.2,362.6 62.3,362.4 62.5,362.5 62.7,362.5 62.9,362.0 63.1,362.0 63.3,362.4 63.5,362.8 63.7,362.8 63.9,362.9 64.0,362.9 64.2,362.7 64.4,362.5 64.6,362.4 64.8,362.4 65.0,362.6 65.2,362.5 65.4,362.3 65.5,362.3 65.7,362.3 65.9,362.3 66.1,362.4 66.3,362.2 66.5,362.0 66.7,362.3 66.9,362.4 67.0,362.4 67.2,362.4 67.4,362.6 67.6,362.5 67.8,362.2 68.0,362.2 68.2,362.5 68.4,362.5 68.6,362.3 68.7,362.3 68.9,362.6 69.1,362.8 69.3,362.5 69.5,362.4 69.7,362.4 69.9,362.6 70.1,362.4 70.2,362.3 70.4,362.3 70.6,362.3 70.8,362.2 71.0,362.3 71.2,362.4 71.4,362.4 71.6,362.3 71.8,362.2 71.9,362.3 72.1,362.5 72.3,362.6 72.5,362.5 72.7,362.1 72.9,362.0 73.1,362.3 73.3,362.8 73.5,362.9 73.6,362.7 73.8,362.4 74.0,362.3 74.2,362.2 74.4,362.4 74.6,362.7 74.8,362.9 75.0,362.6 75.1,362.8 75.3,362.8 75.5,362.8 75.7,362.5 75.9,362.2 76.1,362.2 76.3,362.7 76.5,362.9 76.7,362.7 76.8,362.5 77.0,362.4 77.2,362.5 77.4,362.7 77.6,362.8 77.8,362.6 78.0,362.6 78.2,362.7 78.3,362.7 78.5,362.4 78.7,362.3 78.9,362.6 79.1,362.8 79.3,362.5 79.5,362.4 79.7,362.6 79.8,362.7 80.0,362.4 80.2,362.2 80.4,362.1 80.6,362.1 80.8,362.2 81.0,362.3 81.2,362.5 81.3,362.9 81.5,363.1 81.7,363.0 81.9,362.5 82.1,362.2 82.3,362.0 82.5,362.0 82.7,362.0 82.9,362.0 83.0,362.1 83.2,362.1 83.4,362.0 83.6,361.8 83.8,362.0 84.0,362.3 84.2,362.6 84.4,362.7 84.5,362.6 84.7,362.5 84.9,362.3 85.1,362.5 85.3,362.8 85.5,362.8 85.7,362.3 85.9,362.2 86.1,362.1 86.2,362.0 86.4,362.1 86.6,362.4 86.8,362.4 87.0,362.4 87.2,362.4 87.4,362.3 87.6,362.2 87.8,362.2 87.9,362.2 88.1,362.2 88.3,362.5 88.5,362.5 88.7,362.7 88.9,362.5 89.1,362.5 89.3,362.2 89.5,362.1 89.6,362.0 89.8,362.3 90.0,362.3 90.2,362.3 90.4,362.3 90.6,362.4 90.8,362.3 91.0,362.5 91.1,362.3 91.3,362.3 91.5,362.5 91.7,362.6 91.9,362.2 92.1,361.9 92.3,361.8 92.5,362.0 92.6,362.2 92.8,362.2 93.0,362.0 93.2,362.3 93.4,362.5 93.6,362.4 93.8,362.4 94.0,362.6 94.2,362.6 94.3,362.3 94.5,362.0 94.7,361.8 94.9,361.9 95.1,362.1 95.3,362.3 95.5,362.4 95.7,362.5 95.8,362.5 96.0,362.3 96.2,361.9 96.4,361.8 96.6,361.9 96.8,362.0 97.0,362.1 97.2,362.1 97.3,361.9 97.5,362.0 97.7,362.2 97.9,362.3 98.1,362.3 98.3,362.3 98.5,362.2 98.7,362.1 98.9,362.4 99.0,362.6 99.2,362.6 99.4,362.6 99.6,362.9 99.8,362.7 100.0,362.6 100.2,362.6 100.4,362.5 100.5,362.3 100.7,362.3 100.9,362.4 101.1,362.4 101.3,362.4 101.5,362.4 101.7,362.2 101.9,362.1 102.0,362.4 102.2,362.7 102.4,362.5 102.6,362.4 102.8,362.4 103.0,362.7 103.2,362.5 103.4,362.3 103.6,362.2 103.8,362.1 103.9,361.9 104.1,362.1 104.3,362.4 104.5,362.3 104.7,362.2 104.9,362.5 105.1,362.7 105.2,362.5 105.4,362.3 105.6,362.3 105.8,362.4 106.0,362.2 106.2,362.2 106.4,362.5 106.6,362.5 106.8,362.0 107.0,361.5 107.1,361.6 107.3,361.9 107.5,362.2 107.7,362.4 107.9,362.2 108.1,362.2 108.3,362.1 108.5,362.1 108.6,362.1 108.8,362.5 109.0,362.8 109.2,362.6 109.4,362.1 109.6,361.9 109.8,361.9 110.0,361.8 110.2,361.9 110.3,362.2 110.5,362.3 110.7,362.2 110.9,361.9 111.1,361.8 111.3,361.9 111.5,362.1 111.7,362.4 111.8,362.4 112.0,362.4 112.2,362.4 112.4,362.4 112.6,362.1 112.8,361.7 113.0,361.9 113.2,362.4 113.3,362.6 113.5,362.6 113.7,362.4 113.9,362.2 114.1,362.1 114.3,362.2 114.5,362.4 114.7,362.4 114.8,362.2 115.0,362.2 115.2,362.4 115.4,362.3 115.6,362.3 115.8,362.5 116.0,362.5 116.2,362.5 116.4,362.6 116.5,362.6 116.7,362.4 116.9,362.2 117.1,362.0 117.3,361.7 117.5,361.9 117.7,362.0 117.9,362.1 118.0,362.0 118.2,362.1 118.4,361.9 118.6,362.1 118.8,362.3 119.0,362.6 119.2,362.7 119.4,362.6 119.6,362.4 119.8,362.3 119.9,362.3 120.1,362.3 120.3,362.2 120.5,362.1 120.7,362.2 120.9,362.3 121.1,362.3 121.2,362.1 121.4,362.1 121.6,362.1 121.8,361.9 122.0,362.1 122.2,362.1 122.4,361.8 122.6,361.8 122.8,362.1 123.0,362.3 123.1,362.2 123.3,362.2 123.5,362.3 123.7,362.8 123.9,362.5 124.1,362.3 124.3,362.1 124.5,362.2 124.6,362.1 124.8,362.1 125.0,362.1 125.2,362.2 125.4,362.1 125.6,362.0 125.8,362.0 126.0,362.1 126.1,362.3 126.3,362.2 126.5,362.0 126.7,361.9 126.9,362.0 127.1,362.0 127.3,362.0 127.5,362.2 127.7,362.2 127.8,362.3 128.0,362.3 128.2,362.4 128.4,362.3 128.6,362.1 128.8,361.9 129.0,362.0 129.2,362.2 129.3,362.7 129.5,362.8 129.7,362.7 129.9,362.3 130.1,362.2 130.3,362.2 130.5,362.4 130.7,362.5 130.8,362.4 131.0,362.0 131.2,362.1 131.4,362.4 131.6,362.3 131.8,362.3 132.0,362.3 132.2,362.2 132.4,362.0 132.5,361.8 132.7,361.8 132.9,361.9 133.1,362.0 133.3,361.8 133.5,362.0 133.7,362.2 133.9,362.2 134.1,361.9 134.2,361.8 134.4,361.7 134.6,361.9 134.8,362.0 135.0,362.2 135.2,362.4 135.4,362.5 135.6,362.5 135.7,362.3 135.9,362.2 136.1,362.2 136.3,362.4 136.5,362.2 136.7,362.1 136.9,362.2 137.1,362.4 137.2,362.4 137.4,362.1 137.6,361.7 137.8,361.9 138.0,362.3 138.2,362.1 138.4,361.8 138.6,361.9 138.8,361.7 138.9,361.3 139.1,361.1 139.3,361.3 139.5,361.6 139.7,361.6 139.9,361.5 140.1,361.4 140.3,361.0 140.4,360.6 140.6,360.4 140.8,360.5 141.0,360.6 141.2,360.9 141.4,361.2 141.6,361.3 141.8,361.3 141.9,361.7 142.1,362.0 142.3,361.7 142.5,361.5 142.7,361.8 142.9,362.1 143.1,361.9 143.3,361.9 143.5,361.8 143.7,361.7 143.8,361.5 144.0,361.6 144.2,361.9 144.4,362.0 144.6,362.0 144.8,362.0 145.0,362.0 145.2,362.0 145.3,361.7 145.5,361.4 145.7,361.3 145.9,361.4 146.1,361.3 146.3,361.2 146.5,361.2 146.7,360.9 146.8,360.9 147.0,360.4 147.2,359.8 147.4,359.5 147.6,359.1 147.8,357.9 148.0,356.8 148.2,356.5 148.3,356.2 148.3,356.0 148.5,356.3 148.7,357.3 148.9,358.3 149.1,359.1 149.3,359.8 149.5,360.2 149.7,360.5 149.9,360.7 150.1,360.9 150.2,361.2 150.4,361.2 150.6,361.4 150.8,361.7 151.0,361.6 151.2,361.5 151.4,361.6 151.6,361.7 151.7,361.7 151.9,361.8 152.1,361.8 152.3,361.7 152.5,361.7 152.7,361.9 152.9,361.9 153.1,361.6 153.2,361.6 153.4,361.7 153.6,361.5 153.8,361.7 154.0,361.9 154.2,362.2 154.4,362.2 154.6,362.1 154.8,361.9 154.9,361.9 155.1,362.1 155.3,362.1 155.5,362.0 155.7,361.8 155.9,361.9 156.1,362.1 156.3,361.9 156.4,361.6 156.6,361.5 156.8,361.6 157.0,361.6 157.2,361.4 157.4,361.4 157.6,361.6 157.8,361.8 157.9,361.9 158.1,362.0 158.3,362.0 158.5,362.3 158.7,362.3 158.9,362.2 159.1,361.8 159.3,361.2 159.5,361.0 159.6,361.2 159.8,361.8 160.0,361.8 160.2,361.8 160.4,361.7 160.6,361.8 160.8,361.3 161.0,361.1 161.2,361.2 161.3,361.5 161.5,361.5 161.7,361.4 161.9,361.3 162.1,361.5 162.3,361.7 162.5,361.7 162.7,361.7 162.8,361.6 163.0,361.3 163.2,360.9 163.4,361.0 163.6,361.4 163.8,361.5 164.0,361.3 164.2,361.1 164.3,361.1 164.5,361.1 164.7,361.0 164.9,361.2 165.1,361.4 165.3,361.2 165.5,360.7 165.7,360.6 165.8,360.7 166.0,361.0 166.2,361.0 166.4,360.9 166.6,360.7 166.8,360.5 167.0,360.6 167.2,360.8 167.4,361.1 167.6,360.9 167.7,360.6 167.9,360.4 168.1,360.5 168.3,360.2 168.5,359.8 168.7,359.8 168.9,360.0 169.1,360.1 169.2,360.1 169.4,360.1 169.6,360.1 169.8,359.8 170.0,359.5 170.2,359.4 170.4,359.5 170.6,359.4 170.8,359.2 170.9,358.9 171.1,358.5 171.3,358.1 171.5,358.0 171.7,358.1" fill="none" stroke="#ff0000" stroke-width="1.45" stroke-linejoin="round" stroke-linecap="round"/>
<polyline points="171.3,358.1 171.5,358.0 171.7,358.1 171.9,358.1 172.1,357.8 172.2,357.5 172.4,357.2 172.6,356.9 172.8,356.2 173.0,355.4 173.2,354.8 173.4,354.1 173.6,353.3 173.8,352.5 173.9,351.5 174.1,350.2 174.3,348.6 174.5,346.4 174.7,343.5 174.9,340.1 175.1,335.8 175.3,330.4 175.4,322.6 175.6,311.4 175.8,294.8 176.0,269.5 176.2,230.8 176.4,177.4 176.5,137.8 176.6,108.9 176.8,65.0 176.8,64.2 177.0,90.0 177.0,102.6 177.2,156.7 177.3,215.2 177.5,259.0 177.7,287.8 177.9,306.5 178.1,319.1 178.3,328.3 178.5,334.5 178.7,339.0 178.8,342.2 179.0,344.8 179.2,347.1 179.4,349.1 179.6,350.6 179.8,351.8 180.0,353.1 180.2,353.8 180.3,354.1 180.5,354.4 180.7,354.9 180.9,355.1 181.1,355.1 181.3,355.2 181.5,355.0 181.7,354.3 181.8,352.8 182.0,350.2 182.2,345.7 182.4,339.2 182.6,332.3 182.8,326.5 182.9,325.3 183.0,325.7 183.2,331.1 183.4,338.7 183.6,345.6 183.7,350.5 183.9,353.7 184.1,355.5 184.3,356.8 184.5,357.9 184.7,358.2 184.9,358.6 185.1,359.0 185.2,359.1 185.4,359.0 185.6,359.2" fill="none" stroke="#ff0000" stroke-width="1.2" stroke-linejoin="round" stroke-linecap="round"/>
<polyline points="185.4,359.0 185.6,359.2 185.8,359.7 186.0,360.2 186.2,360.3 186.4,360.1 186.6,359.9 186.7,359.9 186.9,360.1 187.1,360.0 187.3,360.1 187.5,360.4 187.7,360.7 187.9,360.7 188.1,360.6 188.2,360.4 188.4,360.3 188.6,360.7 188.8,361.1 189.0,361.1 189.2,361.1 189.4,361.1 189.6,361.2 189.8,361.3 189.9,361.2 190.1,361.1 190.3,361.1 190.5,361.0 190.7,360.7 190.9,360.8 191.1,361.0 191.3,361.2 191.4,361.1 191.6,361.3 191.8,361.4 192.0,361.3 192.2,361.3 192.4,361.6 192.6,361.8 192.8,361.4 193.0,361.0 193.1,361.1 193.3,361.4 193.5,361.6 193.7,361.5 193.9,361.4 194.1,361.3 194.3,361.6 194.5,361.6 194.7,361.7 194.8,361.6 195.0,361.3 195.2,361.0 195.4,361.0 195.6,361.1 195.8,361.4 196.0,361.8 196.2,361.9 196.3,361.6 196.5,361.4 196.7,361.3 196.9,361.6 197.1,361.8 197.3,361.8 197.5,361.6 197.7,361.3 197.8,361.1 198.0,361.1 198.2,361.3 198.4,361.5 198.6,361.6 198.8,361.4 199.0,361.6 199.2,361.7 199.3,361.5 199.5,361.3 199.7,361.4 199.9,361.4 200.1,361.5 200.3,361.9 200.5,361.8 200.7,361.5 200.9,361.4 201.1,361.6 201.2,361.6 201.4,361.6 201.6,361.7 201.8,361.7 202.0,361.7 202.2,361.6 202.4,361.7 202.6,361.7 202.7,361.8 202.9,361.8 203.1,361.8 203.3,361.7 203.5,361.6 203.7,361.4 203.9,361.3 204.1,361.4 204.2,361.5 204.4,361.5 204.6,361.4 204.8,361.7 205.0,361.6 205.2,361.6 205.4,361.8 205.6,361.9 205.8,361.8 205.9,361.9 206.1,361.8 206.3,361.9 206.5,361.9 206.7,361.8 206.9,361.7 207.1,361.7 207.3,361.6 207.4,361.6 207.6,362.0 207.8,362.1 208.0,361.8 208.2,361.7 208.4,361.8 208.6,361.6 208.8,361.5 208.9,361.6 209.1,361.8 209.3,361.9 209.5,362.1 209.7,362.1 209.9,361.9 210.1,361.7 210.3,361.5 210.5,361.6 210.7,361.7 210.8,361.7 211.0,361.6 211.2,361.7 211.4,362.1 211.6,362.2 211.8,361.9 212.0,361.7 212.2,361.8 212.3,361.9 212.5,361.9 212.7,361.7 212.9,361.7 213.1,361.6 213.3,361.6 213.5,361.6 213.7,361.7 213.8,361.7 214.0,361.9 214.2,361.9 214.4,361.9 214.6,361.7 214.8,361.7 215.0,361.6 215.2,361.7 215.3,361.7 215.5,361.8 215.7,361.6 215.9,361.4 216.1,361.3 216.3,361.5 216.5,361.4 216.7,361.3 216.9,361.0 217.1,361.4 217.2,361.6 217.4,361.6 217.6,361.4 217.8,361.3 218.0,361.2 218.2,361.4 218.4,361.7 218.6,361.8 218.7,361.7 218.9,361.6 219.1,361.5 219.3,361.5 219.5,361.8 219.7,362.0 219.9,361.9 220.1,361.6 220.2,361.4 220.4,361.5 220.6,361.6 220.8,361.4 221.0,361.2 221.2,361.3 221.4,361.7 221.6,361.5 221.8,361.4 221.9,361.4 222.1,361.5 222.3,361.3 222.5,361.3 222.7,361.7 222.9,361.7 223.1,361.3 223.3,361.2 223.4,361.6 223.6,361.8 223.8,361.3 224.0,361.1 224.2,361.4 224.4,361.7 224.6,361.5 224.8,361.4 224.9,361.2 225.1,361.4 225.3,361.7 225.5,361.5 225.7,361.0 225.9,361.1 226.1,361.4 226.3,361.3 226.5,361.0 226.6,361.1 226.8,361.2 227.0,361.1 227.2,361.1 227.4,361.0 227.6,361.1 227.8,361.1 228.0,361.0 228.2,361.0 228.3,361.2 228.5,361.3 228.7,361.3 228.9,361.1 229.1,361.2 229.3,361.3 229.5,361.3 229.7,361.4 229.8,361.5 230.0,361.4 230.2,361.0 230.4,360.9 230.6,361.0 230.8,361.0 231.0,360.6 231.2,360.2 231.3,360.2 231.5,360.6 231.7,360.9 231.9,360.7 232.1,360.6 232.3,360.5 232.5,360.6 232.7,360.5 232.8,360.4 233.0,360.2 233.2,359.8 233.4,359.7 233.6,359.6 233.8,359.8 234.0,359.9 234.2,360.2 234.4,360.2 234.6,360.0 234.7,359.8 234.9,359.7 235.1,359.7 235.3,359.7 235.5,359.5 235.7,359.2 235.9,359.1 236.1,359.1 236.2,359.1 236.4,359.2 236.6,359.1 236.8,358.7 237.0,358.1 237.2,357.9 237.4,357.8 237.6,357.6 237.8,357.3 237.9,357.4 238.1,357.3 238.3,356.9 238.5,356.4 238.7,356.3 238.9,355.9 239.1,355.4 239.2,355.2 239.4,355.1 239.6,354.5 239.8,353.7 240.0,352.9 240.2,352.0 240.4,351.3 240.6,350.4" fill="none" stroke="#ff0000" stroke-width="1.45" stroke-linejoin="round" stroke-linecap="round"/>
<polyline points="240.4,351.3 240.6,350.4 240.8,349.3 240.9,348.2 241.1,347.1 241.3,345.2 241.5,342.8 241.7,340.2 241.9,337.8 242.1,334.9 242.3,331.6 242.4,327.0 242.6,321.5 242.8,315.5 243.0,309.1 243.2,302.4 243.4,295.2 243.6,288.9 243.8,284.3 244.0,282.0 244.0,281.5 244.2,282.3 244.3,286.1 244.5,292.1 244.7,299.0 244.9,306.0 245.1,313.0 245.3,319.4 245.5,324.6 245.7,329.2 245.8,333.1 246.0,336.5 246.2,339.5 246.4,341.7 246.6,343.7 246.8,345.9 247.0,347.7 247.2,349.2 247.3,350.3 247.5,351.1" fill="none" stroke="#ff0000" stroke-width="1.2" stroke-linejoin="round" stroke-linecap="round"/>
<polyline points="247.3,350.3 247.5,351.1 247.7,351.6 247.9,352.3 248.1,353.3 248.3,354.2 248.5,354.8 248.7,355.3 248.8,355.7 249.0,355.9 249.2,356.2 249.4,356.6 249.6,357.0 249.8,357.4 250.0,357.5 250.2,357.6 250.4,357.7 250.5,357.8 250.7,358.1 250.9,358.2 251.1,358.3 251.3,358.7 251.5,359.2 251.7,359.0 251.9,358.8 252.1,359.2 252.2,359.5 252.4,359.6 252.6,359.6 252.8,359.6 253.0,360.0 253.2,360.3 253.4,360.1 253.6,359.7 253.7,359.8 253.9,360.1 254.1,360.3 254.3,360.3 254.5,360.1 254.7,360.1 254.9,360.2 255.1,360.3 255.2,360.1 255.4,360.1 255.6,360.1 255.8,360.3 256.0,360.3 256.2,360.3 256.4,360.5 256.6,360.6 256.8,360.4 256.9,360.4 257.1,360.6 257.3,360.5 257.5,360.4 257.7,360.3 257.9,360.5 258.1,360.7 258.3,360.9 258.4,360.9 258.6,360.8 258.8,361.1 259.0,361.4 259.2,361.5 259.4,361.2 259.6,360.8 259.8,360.8 259.9,361.1 260.1,361.2 260.3,361.1 260.5,361.0 260.7,361.1 260.9,361.2 261.1,361.3 261.3,361.2 261.5,361.2 261.6,361.1 261.8,361.3 262.0,361.5 262.2,361.7 262.4,361.6 262.6,361.6 262.8,361.1 263.0,361.0 263.1,361.1 263.3,361.4 263.5,361.3 263.7,361.1 263.9,361.0 264.1,361.2 264.3,361.6 264.5,361.6 264.7,361.3 264.9,361.3 265.0,361.4 265.2,361.7 265.4,361.7 265.6,361.6 265.8,361.4 266.0,361.7 266.2,361.7 266.4,361.6 266.5,361.5 266.7,361.8 266.9,361.7 267.1,361.4 267.3,361.2 267.5,361.5 267.7,362.0 267.9,362.2 268.1,362.1 268.2,361.8 268.4,361.5 268.6,361.4 268.8,361.3 269.0,361.3 269.2,361.1 269.4,361.1 269.6,361.3 269.7,361.9 269.9,362.1 270.1,361.9 270.3,361.6 270.5,361.5 270.7,361.3 270.9,361.1 271.1,361.3 271.2,361.7 271.4,361.7 271.6,361.4 271.8,361.5 272.0,361.8 272.2,361.8 272.4,361.6 272.6,361.4 272.8,361.4 272.9,361.7 273.1,361.7 273.3,361.4 273.5,361.4 273.7,361.6 273.9,361.7 274.1,361.7 274.3,361.9 274.4,362.0 274.6,362.1 274.8,362.1 275.0,361.7 275.2,361.5 275.4,361.5 275.6,361.9 275.8,362.2 275.9,362.4 276.1,362.3 276.3,362.0 276.5,361.8 276.7,361.9 276.9,361.8 277.1,361.5 277.3,361.6 277.5,361.6 277.6,361.6 277.8,361.5 278.0,361.6 278.2,361.6 278.4,361.7 278.6,361.5 278.8,361.4 279.0,361.5 279.1,361.7 279.3,361.7 279.5,361.5 279.7,361.3 279.9,361.2 280.1,361.5 280.3,361.7 280.5,361.6 280.7,361.6 280.8,361.5 281.0,361.4 281.2,361.5 281.4,361.8 281.6,361.8 281.8,361.8 282.0,361.8 282.2,361.7 282.4,361.2 282.5,361.2 282.7,361.5 282.9,361.7 283.1,361.8 283.3,361.9 283.5,361.6 283.7,361.1 283.9,361.1 284.0,361.3 284.2,361.6 284.4,361.7 284.6,361.6 284.8,361.7 285.0,362.0 285.2,362.2 285.4,361.8 285.6,361.5 285.7,361.4 285.9,361.5 286.1,361.4 286.3,361.5 286.5,361.7 286.7,361.8 286.9,361.7 287.1,361.8 287.2,361.9 287.4,361.6 287.6,361.2 287.8,361.3 288.0,361.7 288.2,361.8 288.4,361.7 288.6,361.6 288.8,361.6 288.9,361.7 289.1,361.6 289.3,361.5 289.5,361.6 289.7,361.7 289.9,361.5 290.1,361.4 290.2,361.5 290.4,361.7 290.6,361.7 290.8,362.0 291.0,362.1 291.2,362.0 291.4,361.7 291.6,361.5 291.8,361.7 291.9,361.9 292.1,362.2 292.3,362.0 292.5,361.6 292.7,361.5 292.9,361.8 293.1,361.9 293.3,361.8 293.4,361.8 293.6,361.9 293.8,361.7 294.0,361.6 294.2,361.7 294.4,361.7 294.6,361.8 294.8,362.1 295.0,362.1 295.1,361.5 295.3,361.4 295.5,361.6 295.7,361.8 295.9,361.6 296.1,361.4 296.3,361.3 296.5,361.4 296.6,361.7 296.8,362.0 297.0,361.9 297.2,361.7 297.4,361.7 297.6,361.8 297.8,361.7 298.0,361.9 298.2,362.1 298.4,362.1 298.5,361.9 298.7,361.8 298.9,361.5 299.1,361.4 299.3,361.7 299.5,362.2 299.7,362.4 299.9,362.3 300.0,362.0 300.2,361.7 300.4,361.6 300.6,361.7 300.8,361.7 301.0,361.8 301.2,361.7 301.4,361.4 301.6,361.2 301.7,361.1 301.9,361.1 302.1,361.4 302.3,361.7 302.5,361.8 302.7,361.9 302.9,362.1 303.1,362.0 303.2,361.9 303.4,361.9 303.6,361.9 303.8,361.8 304.0,361.6 304.2,361.4 304.4,361.4 304.6,361.7 304.8,361.8 304.9,361.7 305.1,361.8 305.3,362.0 305.5,362.2 305.7,362.2 305.9,362.0 306.1,361.8 306.2,361.7 306.4,361.7 306.6,361.6 306.8,361.8 307.0,361.9 307.2,361.8 307.4,361.6 307.6,361.9 307.8,362.1 307.9,362.1 308.1,361.9 308.3,361.7 308.5,361.5 308.7,361.5 308.9,361.8 309.1,361.9 309.3,361.9 309.4,361.7 309.6,361.7 309.8,361.6 310.0,361.9 310.2,362.0 310.4,361.6 310.6,361.5 310.8,361.5 311.0,361.9 311.1,362.0 311.3,362.0 311.5,361.6 311.7,361.5 311.9,361.3 312.1,361.5 312.3,361.7 312.5,361.8 312.6,361.7 312.8,361.6 313.0,361.7 313.2,361.7 313.4,361.5 313.6,361.3 313.8,361.4 314.0,361.5 314.2,361.6 314.3,361.7 314.5,361.7 314.7,361.6 314.9,361.8 315.1,362.0 315.3,362.0 315.5,361.7 315.7,361.4 315.9,361.4 316.0,361.6 316.2,361.5 316.4,361.4 316.6,361.1 316.8,360.9 317.0,360.5 317.2,360.7 317.4,360.9 317.5,361.0 317.7,360.7 317.9,360.8 318.1,360.8 318.3,360.8 318.5,361.2 318.7,361.7 318.9,361.6 319.1,361.5 319.2,361.6 319.4,361.5 319.6,361.6 319.8,361.8 320.0,361.8 320.2,361.7 320.4,361.7 320.6,361.7 320.7,361.9 320.9,362.0 321.1,361.9 321.3,361.4 321.5,361.3 321.7,361.6 321.9,361.8 322.1,361.4 322.2,361.1 322.4,361.3 322.6,361.6 322.8,361.5 323.0,361.5 323.2,361.8 323.4,361.9 323.6,361.8 323.8,361.6 323.9,361.8 324.1,362.0 324.3,362.1 324.5,361.6 324.7,361.3 324.9,361.4 325.1,361.6 325.3,361.7 325.4,361.8 325.6,361.9 325.8,361.9 326.0,361.9 326.2,361.8 326.4,361.6 326.6,361.8 326.8,361.9 326.9,361.7 327.1,361.6 327.3,361.8 327.5,361.7 327.7,361.4 327.9,361.4 328.1,361.7 328.3,362.1 328.5,362.1 328.6,362.0 328.8,361.8 329.0,361.6 329.2,361.5 329.4,361.6 329.6,361.7 329.8,362.0 330.0,361.8 330.1,361.8 330.3,361.7 330.5,361.6 330.7,361.4 330.9,361.3 331.1,361.4 331.3,361.5 331.5,361.7 331.7,361.7 331.9,361.7 332.0,361.7 332.2,361.5 332.4,361.4 332.6,361.4 332.8,361.5 333.0,361.5 333.2,361.6 333.4,361.5 333.5,361.2 333.7,361.2 333.9,361.5 334.1,361.8 334.3,361.9 334.5,362.0 334.7,362.1 334.9,361.9 335.1,361.6 335.2,361.4 335.4,361.3 335.6,361.5 335.8,361.7 336.0,361.7 336.2,361.7 336.4,361.7 336.6,361.8 336.7,361.8 336.9,361.8 337.1,361.7 337.3,361.5 337.5,361.5 337.7,361.7 337.9,361.8 338.1,361.6 338.2,361.8 338.4,361.9 338.6,361.8 338.8,361.6 339.0,361.5 339.2,361.5 339.4,361.8 339.6,362.1 339.8,362.1 339.9,362.0 340.1,361.9 340.3,361.9 340.5,361.8 340.7,361.7 340.9,361.6 341.1,361.7 341.3,361.9 341.4,361.9 341.6,361.6 341.8,361.5 342.0,361.9 342.2,362.4 342.4,362.1 342.6,361.7 342.8,361.5 342.9,361.5 343.1,361.6 343.3,361.6 343.5,361.8 343.7,361.9 343.9,361.8 344.1,361.5 344.3,361.4 344.5,361.4 344.6,361.2 344.8,361.3 345.0,361.7 345.2,361.6 345.4,361.6 345.6,361.9 345.8,362.2 346.0,362.1 346.1,361.8 346.3,361.6 346.5,361.5 346.7,361.6 346.9,361.9 347.1,362.1 347.3,362.3 347.5,362.1 347.7,362.0 347.8,361.8 348.0,361.5 348.2,361.2 348.4,361.4 348.6,361.6 348.8,361.6 349.0,361.9 349.2,362.1 349.4,362.2 349.5,361.9 349.7,361.7 349.9,361.8 350.1,361.7 350.3,361.6 350.5,361.7 350.7,361.8 350.9,361.9 351.0,362.1 351.2,361.9 351.4,361.6 351.6,361.5 351.8,361.6 352.0,361.5 352.2,361.7 352.4,361.7 352.6,361.9 352.7,361.8 352.9,361.5 353.1,361.6 353.3,361.8 353.5,362.0 353.7,361.9 353.9,362.0 354.1,362.0 354.2,362.1 354.4,362.1 354.6,361.7 354.8,361.6 355.0,361.6 355.2,361.7 355.4,361.6 355.6,361.7 355.8,361.9 355.9,361.7 356.1,361.5 356.3,361.3 356.5,361.6 356.7,361.7 356.9,361.7 357.1,361.6 357.2,361.7 357.4,361.8 357.6,361.8 357.8,361.7 358.0,361.4 358.2,361.4 358.4,361.6 358.6,361.7 358.8,361.8 358.9,361.5 359.1,361.2 359.3,360.9 359.5,361.1 359.7,361.4 359.9,361.5 360.1,361.6 360.3,361.7 360.4,361.7 360.6,361.5 360.8,361.2 361.0,361.5 361.2,361.6 361.4,361.4 361.6,361.5 361.8,361.9 362.0,361.8 362.1,361.5 362.3,361.6 362.5,361.9 362.7,361.8 362.9,361.7 363.1,361.7 363.3,361.9 363.5,362.0 363.6,361.9 363.8,361.5 364.0,361.3 364.2,361.7 364.4,362.1 364.6,362.0 364.8,362.0 365.0,361.9 365.2,361.8 365.4,361.6 365.5,361.6 365.7,361.5 365.9,361.8 366.1,361.8 366.3,361.5 366.5,361.2 366.7,361.3 366.9,361.4 367.0,361.6 367.2,361.5 367.4,361.4 367.6,361.5 367.8,361.7 368.0,361.8 368.2,361.7 368.4,361.7 368.6,361.4 368.7,361.4 368.9,361.6 369.1,361.9 369.3,361.5 369.5,361.1 369.7,360.8 369.9,360.9 370.1,361.3 370.2,361.7 370.4,361.8 370.6,361.7 370.8,361.7 371.0,361.7 371.2,361.7 371.4,361.6 371.6,361.4 371.8,361.2 371.9,361.4 372.1,361.7 372.3,361.7 372.5,361.4 372.7,361.4 372.9,361.6 373.1,361.7 373.2,361.5 373.4,361.0 373.6,360.8 373.8,360.9 374.0,360.9 374.2,361.1 374.4,361.6 374.6,361.6 374.8,361.4 374.9,361.6 375.1,361.7 375.3,361.6 375.5,361.4 375.7,361.2 375.9,361.0 376.1,361.0 376.3,361.3 376.4,361.4 376.6,361.3 376.8,361.1 377.0,361.3 377.2,361.4 377.4,361.6 377.6,361.6 377.8,361.4 378.0,361.2 378.1,361.3 378.3,361.4 378.5,361.4 378.7,361.7 378.9,361.8 379.1,361.7 379.3,361.7 379.5,361.7 379.6,361.5 379.8,361.2 380.0,361.3 380.2,361.6 380.4,361.7 380.6,361.6 380.8,361.7 381.0,361.9 381.2,361.7 381.3,361.4 381.5,361.4 381.7,361.6 381.9,361.7 382.1,361.5 382.3,361.3 382.5,361.2 382.7,361.2 382.9,361.2 383.0,361.5 383.2,361.4 383.4,361.4 383.6,361.2 383.8,361.2 384.0,361.3 384.2,361.5 384.4,361.6 384.5,361.4 384.7,361.4 384.9,361.2 385.1,361.2 385.3,361.2 385.5,361.4 385.7,361.6 385.9,361.6 386.1,361.6 386.2,361.7 386.4,361.7 386.6,361.7 386.8,361.7 387.0,361.6 387.2,361.5 387.4,361.5 387.6,361.5 387.7,361.7 387.9,361.9 388.1,361.8 388.3,361.4 388.5,361.2 388.7,361.3 388.9,361.6 389.1,361.7 389.2,361.6 389.4,361.5 389.6,361.6 389.8,361.5 390.0,361.6 390.2,362.0 390.4,362.1 390.6,361.8 390.8,361.5 390.9,361.4 391.1,361.5 391.3,361.6 391.5,361.5 391.7,361.4 391.9,361.4 392.1,361.5 392.3,361.7 392.4,361.8 392.6,361.5 392.8,361.1 393.0,360.9 393.2,361.0 393.4,361.2 393.6,361.6 393.8,361.6 393.9,361.5 394.1,361.4 394.3,361.2 394.5,361.0 394.7,361.0 394.9,361.3 395.1,361.5 395.3,361.6 395.5,361.7 395.6,361.9 395.8,361.6 396.0,361.4 396.2,361.4 396.4,361.5 396.6,361.6 396.8,361.7 397.0,361.8 397.1,361.9 397.3,361.7 397.5,361.6 397.7,361.6 397.9,361.4 398.1,361.4 398.3,361.4 398.5,361.5 398.7,361.6 398.9,361.6 399.0,361.5 399.2,361.2 399.4,361.2 399.6,361.1 399.8,360.9 400.0,361.0 400.2,361.1 400.4,361.4 400.5,361.6 400.7,361.8 400.9,361.9 401.1,361.9 401.3,361.7 401.5,361.6 401.7,361.6 401.9,361.4 402.1,361.5 402.2,361.8 402.4,361.8 402.6,361.7 402.8,361.7 403.0,361.5 403.2,361.3 403.4,361.1 403.6,361.3 403.7,361.3 403.9,361.5 404.1,361.7 404.3,361.6 404.5,361.4 404.7,361.2 404.9,361.2 405.1,361.4 405.2,361.6 405.4,361.3 405.6,361.1 405.8,361.2 406.0,361.5 406.2,361.7 406.4,361.5 406.6,361.4 406.8,361.3 406.9,361.4 407.1,361.5 407.3,361.6 407.5,361.5 407.7,361.4 407.9,361.3 408.1,361.1 408.3,361.1 408.4,361.4 408.6,361.3 408.8,361.0 409.0,361.1 409.2,361.5 409.4,361.8 409.6,361.9 409.8,361.5 409.9,361.2 410.1,361.3 410.3,361.6 410.5,361.6 410.7,361.5 410.9,361.7 411.1,361.9 411.3,361.9 411.5,361.5 411.6,361.5 411.8,361.6 412.0,361.7 412.2,361.8 412.4,361.8 412.6,361.5 412.8,361.3 413.0,361.5 413.1,361.5 413.3,361.8 413.5,361.9 413.7,361.8 413.9,361.6 414.1,361.6 414.3,361.5 414.5,361.6 414.7,361.7 414.8,361.5 415.0,361.2 415.2,361.2 415.4,361.0 415.6,361.0 415.8,361.3 416.0,361.3 416.2,361.2 416.4,361.2 416.5,361.1 416.7,361.1 416.9,361.6 417.1,361.9 417.3,361.9 417.5,361.4 417.7,361.2 417.9,361.1 418.0,361.3 418.2,361.4 418.4,361.5 418.6,361.4 418.8,361.3 419.0,361.1 419.2,361.1 419.4,361.2 419.6,361.1 419.7,361.0 419.9,361.1 420.1,361.3 420.3,361.5 420.5,361.6 420.7,361.6 420.9,361.5 421.1,361.5 421.2,361.3 421.4,361.2 421.6,361.1 421.8,361.1 422.0,361.1 422.2,361.2 422.4,361.4 422.6,361.6 422.8,361.4 422.9,361.1 423.1,361.3 423.3,361.8 423.5,361.9 423.7,361.8 423.9,361.4 424.1,361.0 424.2,361.1 424.4,361.5 424.6,361.5 424.8,361.3 425.0,361.3 425.2,361.2 425.4,361.0 425.6,361.3 425.8,361.9 425.9,361.9 426.1,361.8 426.3,361.6 426.5,361.4 426.7,360.9 426.9,361.0 427.1,361.2 427.3,361.7 427.4,361.8 427.6,361.7 427.8,361.2 428.0,361.2 428.2,361.4 428.4,361.4 428.6,361.0 428.8,361.0 429.0,361.4 429.1,361.6 429.3,361.4 429.5,361.3 429.7,361.5 429.9,361.6 430.1,361.7 430.3,361.6 430.5,361.4 430.6,361.1 430.8,360.9 431.0,360.7 431.2,361.0 431.4,361.4 431.6,361.4 431.8,361.3 432.0,361.0 432.2,361.0 432.4,361.1 432.5,361.5 432.7,361.4 432.9,361.4 433.1,361.6 433.3,361.7 433.5,361.6 433.7,361.2 433.9,360.9 434.0,360.8 434.2,361.2 434.4,361.4 434.6,361.3 434.8,361.2 435.0,361.3 435.2,361.6 435.4,361.7 435.6,361.3 435.7,361.1 435.9,361.4 436.1,361.6 436.3,361.5 436.5,361.7 436.7,361.7 436.9,361.6 437.1,361.2 437.2,360.9 437.4,360.9 437.6,361.1 437.8,361.2 438.0,361.2 438.2,361.4 438.4,361.4 438.6,361.2 438.7,361.1 438.9,361.1 439.1,361.1 439.3,361.3 439.5,361.4 439.7,361.5 439.9,361.6 440.1,361.5 440.2,361.2 440.4,360.9 440.6,360.7 440.8,360.9 441.0,361.0 441.2,361.2 441.4,361.0 441.6,360.8 441.8,360.5 441.9,360.9 442.1,361.2 442.3,361.2 442.5,360.9 442.7,361.1 442.9,361.2 443.1,361.3 443.3,360.9 443.4,361.0 443.6,361.2 443.8,361.5 444.0,361.5 444.2,361.4 444.4,361.3 444.6,361.2 444.8,361.3 445.0,361.3 445.1,361.2 445.3,361.1 445.5,361.2 445.7,361.3 445.9,361.4 446.1,361.5 446.3,361.3 446.5,361.0 446.6,361.1 446.8,361.3 447.0,361.0 447.2,360.9 447.4,361.2 447.6,361.2 447.8,361.0 448.0,361.0 448.1,360.8 448.3,360.7 448.5,360.8 448.7,360.8 448.9,360.8 449.1,360.7 449.3,360.8 449.5,360.9 449.7,361.1 449.9,361.1 450.0,360.9 450.2,360.5 450.4,360.6 450.6,361.0 450.8,361.3 451.0,361.2 451.2,361.0 451.4,360.9 451.5,361.0 451.7,360.9 451.9,361.1 452.1,361.1 452.3,361.1 452.5,360.9 452.7,360.8 452.9,360.7 453.1,360.8 453.2,361.5 453.4,361.8 453.6,361.4 453.8,360.7 454.0,360.7 454.2,360.6 454.4,360.4 454.6,360.4 454.7,360.5 454.9,360.7 455.1,360.9 455.3,360.9 455.5,360.5 455.7,360.2 455.9,360.1 456.1,360.1 456.2,360.5 456.4,360.6 456.6,360.6 456.8,360.4 457.0,360.3 457.2,360.1 457.4,360.0 457.6,360.2 457.8,360.6 457.9,360.5 458.1,360.1 458.3,360.1 458.5,360.4 458.7,360.2 458.9,359.7 459.1,359.5 459.3,359.8 459.4,359.7 459.6,359.6 459.8,359.4 460.0,359.6 460.2,359.6 460.4,359.4 460.6,358.9 460.8,358.9 460.9,358.9 461.1,358.6 461.3,358.2 461.5,357.9 461.7,357.6 461.9,357.2 462.1,356.9 462.3,356.6 462.5,356.4 462.6,356.2 462.8,356.1 463.0,355.7 463.2,354.9 463.4,354.3 463.6,353.5" fill="none" stroke="#ff0000" stroke-width="1.45" stroke-linejoin="round" stroke-linecap="round"/>
<polyline points="463.4,354.3 463.6,353.5 463.8,352.4 464.0,351.5 464.1,351.0 464.3,350.1 464.5,348.6 464.7,346.6 464.9,344.6 465.1,342.5 465.3,340.0 465.5,336.9 465.7,333.3 465.9,329.6 466.0,326.2 466.2,323.0 466.4,320.0 466.6,317.6 466.7,316.9 466.8,316.9 467.0,317.4 467.2,318.6 467.4,320.2 467.5,322.0 467.7,324.0 467.9,326.0 468.1,327.3 468.3,328.3 468.5,329.7 468.7,331.6 468.9,333.6 469.0,335.7 469.2,338.3 469.4,340.9 469.6,343.3 469.8,345.3 470.0,346.9 470.2,348.4 470.4,349.7 470.6,350.7 470.7,351.9 470.9,352.9 471.1,353.8 471.3,354.5 471.5,355.2 471.7,355.7 471.9,356.2 472.1,356.8 472.2,357.1 472.4,357.2 472.6,357.3 472.8,357.9 473.0,358.4 473.2,358.5 473.4,358.3 473.6,358.3 473.8,358.5 473.9,358.8 474.1,359.3 474.3,359.3 474.5,359.3 474.7,359.3 474.9,359.5 475.1,359.4 475.3,359.4 475.4,359.5 475.6,359.8 475.8,359.8 476.0,359.8 476.2,359.9 476.4,360.2 476.6,360.3 476.8,360.4 476.9,360.3 477.1,360.2 477.3,359.8 477.5,359.1 477.7,358.7 477.9,359.2 478.1,360.2 478.3,360.3 478.4,360.1 478.6,360.2 478.8,360.4 479.0,360.3 479.2,360.6 479.4,361.1 479.6,361.0 479.7,360.8 479.8,360.9 480.0,361.1 480.1,361.0 480.3,360.8 480.5,360.6 480.7,360.5 480.9,360.6 481.1,360.8 481.3,361.1 481.5,361.1 481.6,360.6" fill="none" stroke="#ff0000" stroke-width="1.2" stroke-linejoin="round" stroke-linecap="round"/>
<polyline points="481.5,361.1 481.6,360.6 481.8,360.3 482.0,360.5 482.2,360.9 482.4,360.9 482.6,360.8 482.8,360.9 483.0,360.9 483.2,361.0 483.4,360.9 483.5,360.8 483.7,360.8 483.9,360.7 484.1,360.5 484.3,360.5 484.5,360.8 484.7,361.0 484.9,361.0 485.0,361.0 485.2,361.1 485.4,361.3 485.6,361.2 485.8,360.8 486.0,360.7 486.2,360.8 486.4,361.1 486.6,361.2 486.7,361.0 486.9,361.0 487.1,360.8 487.3,360.7 487.5,360.7 487.7,360.8 487.9,360.9 488.1,360.9 488.2,360.8 488.4,361.0 488.6,361.4 488.8,361.5 489.0,361.4 489.2,361.3 489.4,361.3 489.6,361.5 489.8,361.7 489.9,361.6 490.1,361.3 490.3,361.1 490.5,360.7 490.7,360.3 490.9,360.4 491.1,361.0 491.2,361.1 491.4,361.2 491.6,361.4 491.8,361.4 492.0,361.3 492.2,361.5 492.4,361.6 492.6,361.3 492.8,361.2 492.9,361.2 493.1,361.2 493.3,361.0 493.5,361.0 493.7,361.2 493.9,361.3 494.1,361.5 494.3,361.5 494.4,361.3 494.6,361.0 494.8,361.1 495.0,361.2 495.2,361.5 495.4,361.6 495.6,361.4 495.8,361.1 496.0,361.4 496.1,361.4 496.3,361.2 496.5,361.1 496.7,361.3 496.9,361.4 497.1,361.3 497.3,361.2 497.5,361.3 497.6,361.4 497.8,361.0 498.0,360.6 498.2,360.5 498.4,360.9 498.6,361.0 498.8,361.3 499.0,361.4 499.2,361.4 499.4,361.2 499.5,361.3 499.7,361.4 499.9,361.3 500.1,361.3 500.3,361.5 500.5,361.2 500.7,360.9 500.9,360.9 501.0,361.1 501.2,361.2 501.4,361.4 501.6,361.3 501.8,361.3 502.0,361.3 502.2,361.4 502.4,361.3 502.5,361.3 502.7,361.2 502.9,361.1 503.1,361.0 503.3,361.0 503.5,360.8 503.7,361.0 503.9,361.2 504.1,361.3 504.2,361.1 504.4,361.1 504.6,361.2 504.8,361.2 505.0,361.1 505.2,361.1 505.4,361.2 505.6,361.3 505.7,361.0 505.9,360.8 506.1,360.9 506.3,361.2 506.5,361.2 506.7,361.1 506.9,361.0 507.1,361.0 507.2,360.8 507.4,360.7 507.6,360.7 507.8,361.1 508.0,361.3 508.2,361.3 508.4,361.3 508.6,361.3 508.8,361.0 508.9,360.4 509.1,360.7 509.3,361.1 509.5,361.3 509.7,360.9 509.9,360.8 510.1,361.0 510.3,361.3 510.4,361.5 510.6,361.5 510.8,361.1 511.0,360.8 511.2,361.0 511.4,361.2 511.6,361.3 511.8,361.4 511.9,361.4 512.1,361.3 512.3,361.2 512.5,361.1 512.7,361.1 512.9,361.3 513.1,361.4 513.3,361.5 513.5,361.4 513.6,361.3 513.8,361.3 514.0,361.3 514.2,361.3 514.4,361.3 514.6,361.1 514.8,361.1 515.0,361.1 515.1,361.2 515.3,361.0 515.5,360.9 515.7,361.1 515.9,361.1 516.1,361.2 516.3,361.3 516.5,361.5 516.7,361.2 516.9,360.9 517.0,361.1 517.2,361.3 517.4,361.4 517.6,361.4 517.8,361.5 518.0,361.3 518.2,361.1 518.4,361.0 518.5,361.1 518.7,361.2 518.9,361.3 519.1,361.3 519.3,361.2 519.5,361.2 519.7,361.0 519.9,360.8 520.0,360.7 520.2,360.9 520.4,361.0 520.6,361.1 520.8,361.1" fill="none" stroke="#ff0000" stroke-width="1.45" stroke-linejoin="round" stroke-linecap="round"/>
<polyline points="50.3,342.4 50.5,342.5 50.7,342.4 50.9,342.2 51.0,342.2 51.2,342.5 51.4,342.6 51.6,342.6 51.8,342.4 52.0,342.4 52.2,342.5 52.4,342.6 52.6,342.8 52.8,342.8 52.9,342.8 53.1,342.7 53.3,342.6 53.5,342.8 53.7,342.9 53.9,342.6 54.1,342.5 54.2,342.6 54.4,342.6 54.6,342.7 54.8,342.9 55.0,342.8 55.2,342.5 55.4,342.6 55.6,342.8 55.8,342.9 56.0,342.9 56.1,342.9 56.3,342.7 56.5,342.4 56.7,342.1 56.9,342.3 57.1,342.6 57.3,342.8 57.5,342.6 57.6,342.3 57.8,342.4 58.0,342.6 58.2,342.5 58.4,342.4 58.6,342.3 58.8,342.3 59.0,342.4 59.1,342.7 59.3,342.5 59.5,342.3 59.7,342.1 59.9,342.3 60.1,342.5 60.3,342.5 60.5,342.7 60.6,343.0 60.8,342.8 61.0,342.4 61.2,342.5 61.4,342.7 61.6,342.8 61.8,342.9 62.0,342.9 62.2,342.5 62.3,342.4 62.5,342.3 62.7,342.2 62.9,342.1 63.1,342.4 63.3,342.5 63.5,342.5 63.7,342.3 63.9,342.2 64.0,342.3 64.2,342.3 64.4,342.1 64.6,342.1 64.8,342.3 65.0,342.3 65.2,342.6 65.4,342.7 65.5,342.5 65.7,342.3 65.9,342.3 66.1,342.4 66.3,342.6 66.5,342.7 66.7,342.8 66.9,342.9 67.0,342.8 67.2,342.6 67.4,342.3 67.6,342.4 67.8,342.4 68.0,342.4 68.2,342.5 68.4,342.7 68.6,342.4 68.7,342.3 68.9,342.4 69.1,342.5 69.3,342.4 69.5,342.2 69.7,342.2 69.9,342.3 70.1,342.1 70.2,341.8 70.4,341.9 70.6,342.2 70.8,342.3 71.0,342.4 71.2,342.3 71.4,342.6 71.6,342.8 71.8,343.0 71.9,342.7 72.1,342.6 72.3,342.3 72.5,342.4 72.7,342.5 72.9,342.4 73.1,342.1 73.3,341.9 73.5,341.9 73.6,341.9 73.8,342.0 74.0,342.0 74.2,342.1 74.4,342.3 74.6,342.4 74.8,342.2 75.0,342.2 75.1,342.3 75.3,342.3 75.5,342.4 75.7,342.6 75.9,342.8 76.1,342.6 76.3,342.7 76.5,343.0 76.7,342.9 76.8,342.6 77.0,342.5 77.2,342.5 77.4,342.5 77.6,342.4 77.8,342.4 78.0,342.3 78.2,342.1 78.3,342.0 78.5,341.9 78.7,342.3 78.9,342.8 79.1,343.1 79.3,342.9 79.5,342.7 79.7,342.8 79.8,342.9 80.0,342.9 80.2,342.6 80.4,342.4 80.6,342.3 80.8,342.2 81.0,342.0 81.2,342.1 81.3,342.5 81.5,342.5 81.7,342.5 81.9,342.7 82.1,342.8 82.3,342.5 82.5,342.3 82.7,342.5 82.9,342.5 83.0,342.3 83.2,342.2 83.4,342.1 83.6,342.1 83.8,342.3 84.0,342.7 84.2,342.7 84.4,342.6 84.5,342.7 84.7,342.6 84.9,342.4 85.1,342.2 85.3,342.3 85.5,342.5 85.7,342.8 85.9,342.9 86.1,342.6 86.2,342.2 86.4,342.2 86.6,342.4 86.8,342.7 87.0,342.6 87.2,342.3 87.4,342.4 87.6,342.5 87.8,342.5 87.9,342.4 88.1,342.6 88.3,342.7 88.5,342.8 88.7,342.8 88.9,342.8 89.1,342.7 89.3,342.5 89.5,342.4 89.6,342.2 89.8,342.1 90.0,342.3 90.2,342.4 90.4,342.5 90.6,342.6 90.8,342.2 91.0,342.0 91.1,341.9 91.3,342.1 91.5,342.1 91.7,342.3 91.9,342.5 92.1,342.4 92.3,342.3 92.5,342.2 92.6,342.2 92.8,342.1 93.0,342.3 93.2,342.4 93.4,342.2 93.6,342.6 93.8,342.8 94.0,342.5 94.2,341.9 94.3,342.0 94.5,342.2 94.7,342.3 94.9,342.2 95.1,342.2 95.3,342.3 95.5,342.2 95.7,342.0 95.8,342.0 96.0,342.3 96.2,342.5 96.4,342.5 96.6,342.4 96.8,342.4 97.0,342.7 97.2,342.7 97.3,342.6 97.5,342.5 97.7,342.4 97.9,342.3 98.1,342.3 98.3,342.4 98.5,342.4 98.7,342.5 98.9,342.8 99.0,342.7 99.2,342.5 99.4,342.7 99.6,342.7 99.8,342.5 100.0,342.4 100.2,342.6 100.4,342.6 100.5,342.5 100.7,342.6 100.9,342.7 101.1,342.7 101.3,342.5 101.5,342.4 101.7,342.3 101.9,342.3 102.0,342.2 102.2,342.2 102.4,342.6 102.6,343.0 102.8,343.0 103.0,342.7 103.2,342.5 103.4,342.4 103.6,342.4 103.8,342.5 103.9,342.6 104.1,342.5 104.3,342.4 104.5,342.5 104.7,342.3 104.9,342.2 105.1,342.3 105.2,342.4 105.4,342.6 105.6,342.5 105.8,342.2 106.0,342.1 106.2,342.1 106.4,342.0 106.6,342.0 106.8,342.2 107.0,342.1 107.1,342.0 107.3,342.1 107.5,342.2 107.7,342.1 107.9,342.2 108.1,342.7 108.3,342.6 108.5,342.0 108.6,341.9 108.8,342.1 109.0,342.1 109.2,342.1 109.4,342.3 109.6,342.1 109.8,341.7 110.0,341.5 110.2,342.0 110.3,342.4 110.5,342.2 110.7,342.1 110.9,342.3 111.1,342.5 111.3,342.3 111.5,342.3 111.7,342.5 111.8,342.6 112.0,342.6 112.2,342.4 112.4,342.3 112.6,342.1 112.8,342.1 113.0,342.2 113.2,342.3 113.3,342.4 113.5,342.5 113.7,342.6 113.9,342.3 114.1,342.2 114.3,342.2 114.5,342.2 114.7,342.0 114.8,342.2 115.0,342.5 115.2,342.5 115.4,342.1 115.6,342.0 115.8,342.1 116.0,342.4 116.2,342.4 116.4,342.0 116.5,341.8 116.7,342.0 116.9,342.3 117.1,342.4 117.3,342.7 117.5,342.7 117.7,342.4 117.9,342.0 118.0,342.0 118.2,342.2 118.4,342.5 118.6,342.5 118.8,342.5 119.0,342.6 119.2,342.6 119.4,342.4 119.6,342.1 119.8,341.9 119.9,341.7 120.1,341.8 120.3,342.2 120.5,342.7 120.7,342.7 120.9,342.5 121.1,342.1 121.2,342.2 121.4,342.4 121.6,342.4 121.8,342.3 122.0,342.4 122.2,342.2 122.4,342.1 122.6,342.2 122.8,342.4 123.0,342.2 123.1,342.4 123.3,342.7 123.5,343.0 123.7,342.7 123.9,342.2 124.1,342.1 124.3,342.2 124.5,342.1 124.6,341.8 124.8,342.1 125.0,342.5 125.2,342.7 125.4,342.5 125.6,342.3 125.8,342.2 126.0,342.2 126.1,342.2 126.3,342.4 126.5,342.3 126.7,342.2 126.9,342.2 127.1,342.4 127.3,342.5 127.5,342.3 127.7,342.0 127.8,341.9 128.0,341.9 128.2,342.2 128.4,342.1 128.6,341.9 128.8,341.8 129.0,342.1 129.2,342.4 129.3,342.2 129.5,342.1 129.7,342.1 129.9,342.0 130.1,341.9 130.3,342.0 130.5,342.2 130.7,342.3 130.8,342.3 131.0,342.3 131.2,342.2 131.4,341.9 131.6,341.8 131.8,341.9 132.0,342.1 132.2,342.0 132.4,342.0 132.5,342.2 132.7,342.4 132.9,342.1 133.1,341.9 133.3,342.0 133.5,342.2 133.7,342.2 133.9,342.3 134.1,342.3 134.2,342.4 134.4,342.1 134.6,341.8 134.8,341.8 135.0,342.0 135.2,342.1 135.4,342.0 135.6,342.1 135.7,341.9 135.9,342.0 136.1,342.0 136.3,342.1 136.5,342.1 136.7,342.3 136.9,342.5 137.1,342.3 137.2,342.1 137.4,342.3 137.6,342.5 137.8,342.7 138.0,342.5 138.2,342.3 138.4,342.3 138.6,342.4 138.8,342.2 138.9,341.7 139.1,341.4 139.3,341.6 139.5,341.8 139.7,341.4 139.9,341.1 140.1,341.2 140.3,341.3 140.4,340.9 140.6,340.5 140.8,340.5 141.0,340.8 141.2,340.8 141.4,341.3 141.6,341.9 141.8,342.1 141.9,341.7 142.1,341.4 142.3,341.6 142.5,341.9 142.7,341.9 142.9,342.2 143.1,342.4 143.3,342.1 143.5,341.7 143.7,341.8 143.8,341.8 144.0,341.8 144.2,341.9 144.4,342.0 144.6,341.8 144.8,341.6 145.0,341.6 145.2,341.7 145.3,341.8 145.5,341.8 145.7,341.7 145.9,341.4 146.1,341.5 146.3,341.7 146.5,341.4 146.7,340.9 146.8,340.2 147.0,339.4 147.2,338.5 147.4,337.7 147.6,336.5 147.8,335.0 148.0,333.5 148.2,332.4 148.3,332.1 148.3,332.3 148.5,333.0 148.7,334.4 148.9,335.7 149.1,336.8 149.3,338.1 149.5,339.6 149.7,340.4 149.9,340.6 150.1,340.6 150.2,340.8 150.4,341.2 150.6,341.3 150.8,341.3 151.0,341.5 151.2,341.8 151.4,341.6 151.6,341.6 151.7,341.5 151.9,341.7 152.1,341.8 152.3,341.8 152.5,341.7 152.7,342.0 152.9,342.1 153.1,342.1 153.2,342.0 153.4,342.0 153.6,341.9 153.8,341.8 154.0,341.7 154.2,341.8 154.4,342.0 154.6,341.7 154.8,341.7 154.9,341.7 155.1,341.6 155.3,341.5 155.5,341.5 155.7,341.8 155.9,341.8 156.1,341.7 156.3,341.5 156.4,341.7 156.6,341.9 156.8,342.1 157.0,342.0 157.2,341.8 157.4,341.7 157.6,341.9 157.8,342.0 157.9,342.0 158.1,341.5 158.3,341.6 158.5,342.0 158.7,342.2 158.9,342.0 159.1,341.8 159.3,341.6 159.5,341.5 159.6,341.5 159.8,341.6 160.0,341.4 160.2,341.3 160.4,341.5 160.6,341.7 160.8,341.7 161.0,341.4 161.2,341.3 161.3,341.3 161.5,341.4 161.7,341.2 161.9,341.2 162.1,341.4 162.3,341.5 162.5,341.5 162.7,341.6 162.8,341.5 163.0,341.3 163.2,341.2 163.4,341.2 163.6,341.5 163.8,341.5 164.0,341.4 164.2,341.4 164.3,341.6 164.5,341.7 164.7,341.7 164.9,341.6 165.1,341.6 165.3,341.5 165.5,341.5 165.7,341.4 165.8,341.2 166.0,341.4 166.2,341.5 166.4,341.3 166.6,340.9 166.8,340.9 167.0,340.9 167.2,340.8 167.4,340.4 167.6,340.3 167.7,340.3 167.9,340.4 168.1,340.5 168.3,340.7 168.5,340.9 168.7,340.9 168.9,340.5 169.1,340.0 169.2,339.8 169.4,339.8 169.6,339.6 169.8,339.5 170.0,339.5 170.2,339.7 170.4,339.5 170.6,339.4 170.8,339.0 170.9,338.8 171.1,338.4 171.3,338.2 171.5,338.3 171.7,338.4" fill="none" stroke="#00ff00" stroke-width="1.45" stroke-linejoin="round" stroke-linecap="round"/>
<polyline points="171.3,338.2 171.5,338.3 171.7,338.4 171.9,338.0 172.1,337.4 172.2,337.1 172.4,336.7 172.6,336.3 172.8,335.7 173.0,335.0 173.2,334.2 173.4,333.5 173.6,332.5 173.8,331.2 173.9,329.7 174.1,327.7 174.3,325.5 174.5,322.6 174.7,318.8 174.9,313.6 175.1,306.7 175.3,297.7 175.4,284.5 175.6,265.3 175.8,236.6 176.0,194.6 176.2,140.5 176.4,95.8 176.5,86.3 176.6,91.4 176.8,134.3 176.8,142.8 177.0,188.6 177.0,199.3 177.2,232.7 177.3,261.3 177.5,282.1 177.7,296.3 177.9,305.9 178.1,312.7 178.3,318.1 178.5,321.7 178.7,324.6 178.8,326.9 179.0,328.8 179.2,330.2 179.4,331.1 179.6,332.0 179.8,332.8 180.0,333.3 180.2,333.4 180.3,333.8 180.5,334.1 180.7,334.1 180.9,333.8 181.1,333.5 181.3,332.5 181.5,331.2 181.7,329.4 181.8,325.7 182.0,318.4 182.2,305.3 182.4,285.3 182.6,261.6 182.8,240.2 182.9,236.1 183.0,238.5 183.2,258.2 183.4,283.6 183.6,304.5 183.7,317.7 183.9,325.9 184.1,330.7 184.3,333.4 184.5,335.0 184.7,336.2 184.9,337.1 185.1,337.6 185.2,338.0 185.4,338.5 185.6,338.9" fill="none" stroke="#00ff00" stroke-width="1.2" stroke-linejoin="round" stroke-linecap="round"/>
<polyline points="185.4,338.5 185.6,338.9 185.8,339.0 186.0,339.1 186.2,339.3 186.4,339.6 186.6,340.0 186.7,340.5 186.9,340.8 187.1,340.8 187.3,340.8 187.5,341.0 187.7,340.9 187.9,340.8 188.1,340.8 188.2,340.9 188.4,340.8 188.6,340.7 188.8,340.7 189.0,340.7 189.2,340.8 189.4,341.0 189.6,341.2 189.8,341.2 189.9,341.3 190.1,341.3 190.3,341.2 190.5,341.0 190.7,340.7 190.9,340.5 191.1,340.9 191.3,341.2 191.4,341.3 191.6,341.4 191.8,341.7 192.0,341.7 192.2,341.9 192.4,342.1 192.6,342.2 192.8,342.1 193.0,341.8 193.1,341.5 193.3,341.5 193.5,341.4 193.7,341.1 193.9,341.5 194.1,341.8 194.3,341.8 194.5,341.5 194.7,341.5 194.8,341.6 195.0,341.6 195.2,341.4 195.4,341.2 195.6,341.2 195.8,341.4 196.0,341.9 196.2,342.2 196.3,342.4 196.5,342.2 196.7,342.0 196.9,341.6 197.1,341.5 197.3,341.3 197.5,341.3 197.7,341.6 197.8,342.1 198.0,342.2 198.2,342.0 198.4,341.7 198.6,341.4 198.8,341.5 199.0,341.8 199.2,342.2 199.3,342.2 199.5,341.9 199.7,341.6 199.9,341.7 200.1,341.6 200.3,341.6 200.5,341.7 200.7,341.9 200.9,341.8 201.1,341.6 201.2,341.5 201.4,341.6 201.6,341.7 201.8,341.7 202.0,341.6 202.2,341.7 202.4,341.6 202.6,341.4 202.7,341.6 202.9,342.0 203.1,342.1 203.3,342.2 203.5,342.3 203.7,342.2 203.9,342.0 204.1,342.1 204.2,342.1 204.4,342.1 204.6,342.0 204.8,341.9 205.0,342.0 205.2,341.9 205.4,341.6 205.6,341.6 205.8,341.8 205.9,341.5 206.1,341.6 206.3,341.7 206.5,341.8 206.7,341.7 206.9,341.6 207.1,341.5 207.3,341.4 207.4,341.4 207.6,341.5 207.8,341.7 208.0,341.9 208.2,341.9 208.4,342.1 208.6,342.3 208.8,342.1 208.9,341.6 209.1,341.6 209.3,341.7 209.5,341.7 209.7,341.7 209.9,341.9 210.1,342.1 210.3,342.0 210.5,341.8 210.7,341.8 210.8,342.0 211.0,342.2 211.2,342.3 211.4,341.8 211.6,341.5 211.8,341.7 212.0,342.3 212.2,342.4 212.3,341.9 212.5,341.6 212.7,341.7 212.9,341.6 213.1,341.4 213.3,341.7 213.5,342.1 213.7,342.3 213.8,342.0 214.0,342.1 214.2,342.0 214.4,341.9 214.6,341.5 214.8,341.7 215.0,342.0 215.2,342.2 215.3,342.1 215.5,342.0 215.7,341.9 215.9,341.6 216.1,341.6 216.3,341.9 216.5,342.1 216.7,341.9 216.9,341.8 217.1,342.1 217.2,342.2 217.4,342.1 217.6,341.8 217.8,341.5 218.0,341.4 218.2,341.5 218.4,341.7 218.6,341.8 218.7,341.9 218.9,342.0 219.1,342.0 219.3,342.0 219.5,341.9 219.7,341.9 219.9,341.8 220.1,341.6 220.2,341.7 220.4,341.6 220.6,341.8 220.8,341.7 221.0,342.0 221.2,341.9 221.4,341.8 221.6,341.7 221.8,341.8 221.9,341.9 222.1,341.8 222.3,341.8 222.5,342.0 222.7,342.0 222.9,341.6 223.1,341.4 223.3,341.4 223.4,341.8 223.6,342.0 223.8,341.9 224.0,341.8 224.2,341.8 224.4,341.7 224.6,341.6 224.8,341.4 224.9,341.4 225.1,341.6 225.3,341.7 225.5,341.4 225.7,341.3 225.9,341.6 226.1,341.7 226.3,341.4 226.5,341.3 226.6,341.2 226.8,341.0 227.0,340.8 227.2,341.0 227.4,341.2 227.6,341.2 227.8,341.3 228.0,341.4 228.2,341.3 228.3,341.2 228.5,341.3 228.7,341.5 228.9,341.7 229.1,341.6 229.3,341.1 229.5,340.6 229.7,340.6 229.8,341.1 230.0,341.0 230.2,341.1 230.4,341.2 230.6,341.3 230.8,341.0 231.0,341.0 231.2,340.9 231.3,340.9 231.5,340.9 231.7,340.7 231.9,340.5 232.1,340.6 232.3,340.6 232.5,340.7 232.7,340.7 232.8,340.9 233.0,341.0 233.2,340.9 233.4,340.5 233.6,340.6 233.8,340.7 234.0,340.4 234.2,340.1 234.4,340.4 234.6,340.4 234.7,340.2 234.9,340.0 235.1,340.1 235.3,339.9 235.5,339.8 235.7,339.8 235.9,339.9 236.1,339.7 236.2,339.6 236.4,339.4 236.6,339.3 236.8,339.1 237.0,339.3 237.2,339.1 237.4,339.0 237.6,338.7 237.8,338.6 237.9,338.3 238.1,338.4 238.3,338.0 238.5,337.7 238.7,337.3 238.9,337.1 239.1,336.5 239.2,336.1 239.4,335.5 239.6,334.8 239.8,334.4 240.0,333.9 240.2,333.4 240.4,332.8 240.6,332.0" fill="none" stroke="#00ff00" stroke-width="1.45" stroke-linejoin="round" stroke-linecap="round"/>
<polyline points="240.4,332.8 240.6,332.0 240.8,330.9 240.9,329.9 241.1,328.6 241.3,327.0 241.5,325.2 241.7,323.3 241.9,321.2 242.1,318.5 242.3,315.3 242.4,311.2 242.6,306.2 242.8,300.9 243.0,295.3 243.2,289.5 243.4,283.1 243.6,277.6 243.8,273.4 244.0,271.5 244.0,271.4 244.2,272.0 244.3,274.7 244.5,279.8 244.7,286.2 244.9,292.6 245.1,298.6 245.3,304.0 245.5,308.7 245.7,313.0 245.8,316.8 246.0,320.0 246.2,322.6 246.4,324.5 246.6,326.3 246.8,327.9 247.0,329.5 247.2,330.4 247.3,331.2 247.5,332.0" fill="none" stroke="#00ff00" stroke-width="1.2" stroke-linejoin="round" stroke-linecap="round"/>
<polyline points="247.3,331.2 247.5,332.0 247.7,333.3 247.9,333.9 248.1,334.4 248.3,335.0 248.5,335.6 248.7,335.7 248.8,335.9 249.0,336.2 249.2,336.8 249.4,337.2 249.6,337.7 249.8,338.0 250.0,338.2 250.2,338.1 250.4,338.1 250.5,338.4 250.7,338.9 250.9,339.2 251.1,339.3 251.3,339.2 251.5,339.3 251.7,339.7 251.9,339.8 252.1,339.8 252.2,339.9 252.4,340.0 252.6,339.5 252.8,339.4 253.0,339.8 253.2,340.1 253.4,340.2 253.6,340.3 253.7,340.5 253.9,340.5 254.1,340.5 254.3,340.6 254.5,340.6 254.7,340.8 254.9,340.8 255.1,340.7 255.2,340.6 255.4,340.8 255.6,340.7 255.8,340.6 256.0,340.5 256.2,340.6 256.4,340.7 256.6,340.9 256.8,341.0 256.9,340.9 257.1,341.3 257.3,341.4 257.5,341.2 257.7,340.8 257.9,340.7 258.1,340.9 258.3,341.1 258.4,341.4 258.6,341.4 258.8,341.4 259.0,341.4 259.2,341.4 259.4,341.4 259.6,341.5 259.8,341.6 259.9,341.5 260.1,341.2 260.3,340.9 260.5,341.1 260.7,341.1 260.9,341.0 261.1,341.1 261.3,341.4 261.5,341.3 261.6,341.4 261.8,341.8 262.0,341.9 262.2,341.8 262.4,341.9 262.6,341.8 262.8,341.8 263.0,341.8 263.1,341.7 263.3,341.3 263.5,341.4 263.7,341.3 263.9,341.4 264.1,341.6 264.3,341.8 264.5,341.8 264.7,341.8 264.9,341.8 265.0,341.8 265.2,341.7 265.4,341.7 265.6,341.7 265.8,341.7 266.0,341.7 266.2,341.6 266.4,341.5 266.5,341.6 266.7,341.7 266.9,341.6 267.1,341.4 267.3,341.4 267.5,341.5 267.7,341.7 267.9,341.8 268.1,341.7 268.2,341.6 268.4,341.5 268.6,341.2 268.8,341.1 269.0,341.2 269.2,341.3 269.4,341.3 269.6,341.5 269.7,341.6 269.9,341.7 270.1,341.6 270.3,341.6 270.5,341.3 270.7,341.4 270.9,341.7 271.1,342.0 271.2,342.2 271.4,342.3 271.6,342.1 271.8,341.9 272.0,341.8 272.2,341.8 272.4,341.7 272.6,341.9 272.8,341.8 272.9,341.8 273.1,341.7 273.3,342.0 273.5,341.8 273.7,341.7 273.9,341.6 274.1,341.6 274.3,341.6 274.4,341.7 274.6,341.7 274.8,341.8 275.0,341.8 275.2,341.8 275.4,341.7 275.6,341.8 275.8,341.9 275.9,341.9 276.1,341.8 276.3,341.6 276.5,341.5 276.7,341.6 276.9,341.9 277.1,342.1 277.3,342.1 277.5,341.9 277.6,341.6 277.8,341.3 278.0,341.2 278.2,341.4 278.4,341.5 278.6,341.3 278.8,341.4 279.0,341.7 279.1,341.6 279.3,341.8 279.5,342.1 279.7,342.1 279.9,341.9 280.1,341.9 280.3,342.0 280.5,341.9 280.7,341.6 280.8,341.4 281.0,341.6 281.2,341.9 281.4,341.9 281.6,341.7 281.8,341.6 282.0,341.9 282.2,342.1 282.4,342.2 282.5,342.3 282.7,342.3 282.9,342.1 283.1,342.0 283.3,342.0 283.5,341.9 283.7,341.7 283.9,341.7 284.0,341.6 284.2,341.5 284.4,341.5 284.6,341.6 284.8,341.6 285.0,341.9 285.2,342.3 285.4,342.6 285.6,342.3 285.7,341.9 285.9,341.9 286.1,342.1 286.3,342.1 286.5,341.9 286.7,342.0 286.9,341.9 287.1,341.9 287.2,341.6 287.4,341.5 287.6,341.6 287.8,341.9 288.0,341.8 288.2,341.9 288.4,342.0 288.6,342.1 288.8,341.8 288.9,341.7 289.1,341.8 289.3,341.9 289.5,341.5 289.7,341.6 289.9,341.8 290.1,341.7 290.2,341.7 290.4,341.9 290.6,342.0 290.8,341.8 291.0,341.8 291.2,342.0 291.4,342.2 291.6,341.8 291.8,341.6 291.9,341.8 292.1,341.9 292.3,341.9 292.5,341.8 292.7,342.0 292.9,342.0 293.1,342.2 293.3,342.1 293.4,341.9 293.6,341.7 293.8,341.8 294.0,342.0 294.2,342.2 294.4,342.1 294.6,341.9 294.8,342.0 295.0,342.1 295.1,341.8 295.3,341.6 295.5,341.7 295.7,342.0 295.9,342.0 296.1,341.7 296.3,341.7 296.5,341.8 296.6,341.8 296.8,341.7 297.0,341.6 297.2,341.5 297.4,341.7 297.6,342.1 297.8,342.4 298.0,342.5 298.2,342.3 298.4,342.2 298.5,342.2 298.7,341.8 298.9,341.9 299.1,342.1 299.3,342.0 299.5,341.8 299.7,341.8 299.9,341.8 300.0,341.9 300.2,342.1 300.4,342.2 300.6,341.8 300.8,341.6 301.0,341.6 301.2,341.6 301.4,341.8 301.6,342.3 301.7,342.5 301.9,342.1 302.1,341.9 302.3,341.7 302.5,341.5 302.7,341.7 302.9,342.2 303.1,342.1 303.2,341.6 303.4,341.6 303.6,341.9 303.8,341.9 304.0,341.9 304.2,341.9 304.4,341.6 304.6,341.6 304.8,341.8 304.9,341.8 305.1,341.5 305.3,341.6 305.5,341.7 305.7,341.9 305.9,341.9 306.1,342.1 306.2,342.0 306.4,341.9 306.6,341.5 306.8,341.4 307.0,341.6 307.2,342.3 307.4,342.4 307.6,341.9 307.8,341.6 307.9,341.9 308.1,342.0 308.3,341.9 308.5,341.7 308.7,341.6 308.9,341.8 309.1,342.2 309.3,342.3 309.4,342.0 309.6,341.9 309.8,342.1 310.0,342.2 310.2,342.0 310.4,341.9 310.6,342.0 310.8,342.0 311.0,341.7 311.1,341.6 311.3,341.9 311.5,342.1 311.7,342.1 311.9,342.0 312.1,341.7 312.3,341.6 312.5,341.5 312.6,341.5 312.8,341.6 313.0,341.9 313.2,341.9 313.4,341.8 313.6,341.7 313.8,341.9 314.0,342.1 314.2,342.0 314.3,341.9 314.5,342.0 314.7,341.9 314.9,341.9 315.1,342.1 315.3,342.3 315.5,342.3 315.7,342.3 315.9,342.0 316.0,341.6 316.2,341.4 316.4,341.4 316.6,341.4 316.8,341.1 317.0,340.8 317.2,340.3 317.4,340.2 317.5,340.5 317.7,340.6 317.9,340.6 318.1,340.9 318.3,341.1 318.5,341.1 318.7,341.0 318.9,341.3 319.1,341.7 319.2,341.8 319.4,341.5 319.6,341.4 319.8,341.7 320.0,341.9 320.2,341.8 320.4,341.8 320.6,341.8 320.7,341.7 320.9,341.8 321.1,341.9 321.3,341.7 321.5,341.7 321.7,341.8 321.9,341.9 322.1,341.9 322.2,341.9 322.4,341.8 322.6,341.7 322.8,341.7 323.0,342.0 323.2,342.3 323.4,342.2 323.6,342.0 323.8,342.1 323.9,342.2 324.1,342.0 324.3,342.1 324.5,342.3 324.7,342.2 324.9,342.0 325.1,341.9 325.3,341.9 325.4,342.0 325.6,342.2 325.8,342.1 326.0,341.8 326.2,341.8 326.4,341.7 326.6,341.8 326.8,341.9 326.9,342.0 327.1,342.0 327.3,342.2 327.5,342.3 327.7,342.1 327.9,342.1 328.1,342.1 328.3,342.0 328.5,341.6 328.6,341.7 328.8,342.0 329.0,342.1 329.2,342.0 329.4,342.0 329.6,341.8 329.8,341.7 330.0,341.7 330.1,341.9 330.3,342.2 330.5,342.1 330.7,341.9 330.9,341.6 331.1,341.8 331.3,341.9 331.5,341.9 331.7,342.1 331.9,342.2 332.0,342.1 332.2,341.8 332.4,341.6 332.6,341.4 332.8,341.6 333.0,341.7 333.2,341.8 333.4,341.9 333.5,342.0 333.7,342.0 333.9,341.8 334.1,341.6 334.3,341.6 334.5,341.9 334.7,342.2 334.9,342.1 335.1,341.8 335.2,342.0 335.4,342.0 335.6,342.0 335.8,341.7 336.0,341.5 336.2,341.7 336.4,342.0 336.6,342.1 336.7,341.9 336.9,341.7 337.1,341.6 337.3,341.8 337.5,341.9 337.7,341.8 337.9,341.8 338.1,341.8 338.2,341.9 338.4,341.9 338.6,341.6 338.8,341.4 339.0,341.5 339.2,341.7 339.4,341.7 339.6,341.8 339.8,341.9 339.9,342.1 340.1,342.2 340.3,341.9 340.5,341.6 340.7,341.7 340.9,341.9 341.1,341.9 341.3,341.7 341.4,341.8 341.6,342.0 341.8,342.1 342.0,341.9 342.2,341.8 342.4,341.7 342.6,341.8 342.8,341.6 342.9,341.5 343.1,341.4 343.3,341.8 343.5,342.2 343.7,342.5 343.9,342.5 344.1,342.2 344.3,342.0 344.5,342.0 344.6,342.0 344.8,341.9 345.0,341.7 345.2,341.7 345.4,342.1 345.6,342.3 345.8,342.4 346.0,342.6 346.1,342.5 346.3,342.0 346.5,341.6 346.7,341.7 346.9,341.7 347.1,341.8 347.3,341.9 347.5,342.2 347.7,342.2 347.8,342.0 348.0,341.9 348.2,341.9 348.4,342.0 348.6,342.0 348.8,342.0 349.0,341.8 349.2,341.8 349.4,342.1 349.5,342.3 349.7,342.0 349.9,341.8 350.1,341.9 350.3,341.6 350.5,341.3 350.7,341.6 350.9,342.0 351.0,342.2 351.2,342.2 351.4,342.2 351.6,341.7 351.8,341.4 352.0,341.5 352.2,341.9 352.4,341.9 352.6,341.7 352.7,341.7 352.9,341.7 353.1,341.4 353.3,341.3 353.5,341.6 353.7,341.8 353.9,341.6 354.1,341.4 354.2,341.5 354.4,341.7 354.6,341.8 354.8,342.0 355.0,342.0 355.2,342.0 355.4,342.0 355.6,342.1 355.8,342.2 355.9,342.3 356.1,342.1 356.3,342.0 356.5,342.0 356.7,341.9 356.9,341.7 357.1,341.7 357.2,341.7 357.4,341.7 357.6,342.0 357.8,342.0 358.0,342.0 358.2,341.7 358.4,341.6 358.6,341.9 358.8,342.2 358.9,342.2 359.1,342.0 359.3,341.7 359.5,341.6 359.7,341.6 359.9,341.5 360.1,341.6 360.3,341.8 360.4,342.0 360.6,341.9 360.8,341.9 361.0,341.6 361.2,341.7 361.4,341.6 361.6,341.7 361.8,341.7 362.0,341.8 362.1,341.8 362.3,342.1 362.5,342.1 362.7,342.0 362.9,342.0 363.1,342.0 363.3,342.1 363.5,342.0 363.6,341.7 363.8,341.3 364.0,341.4 364.2,341.6 364.4,342.2 364.6,342.6 364.8,342.6 365.0,342.4 365.2,342.3 365.4,342.0 365.5,342.1 365.7,342.2 365.9,342.1 366.1,342.0 366.3,341.8 366.5,341.6 366.7,341.6 366.9,341.9 367.0,341.9 367.2,341.7 367.4,341.7 367.6,341.8 367.8,341.9 368.0,342.0 368.2,342.0 368.4,341.7 368.6,341.5 368.7,341.5 368.9,341.6 369.1,341.6 369.3,341.6 369.5,341.7 369.7,341.7 369.9,341.8 370.1,341.7 370.2,341.5 370.4,341.6 370.6,342.1 370.8,342.1 371.0,341.8 371.2,341.6 371.4,341.9 371.6,341.9 371.8,341.6 371.9,341.5 372.1,341.7 372.3,341.8 372.5,341.5 372.7,341.5 372.9,341.4 373.1,341.7 373.2,342.0 373.4,342.0 373.6,341.9 373.8,341.8 374.0,341.8 374.2,341.8 374.4,342.0 374.6,341.9 374.8,341.8 374.9,341.8 375.1,341.9 375.3,341.8 375.5,341.9 375.7,342.0 375.9,342.1 376.1,341.9 376.3,342.1 376.4,341.8 376.6,341.8 376.8,341.9 377.0,341.9 377.2,341.6 377.4,342.0 377.6,342.3 377.8,342.0 378.0,341.6 378.1,341.8 378.3,341.8 378.5,341.7 378.7,341.6 378.9,342.0 379.1,342.1 379.3,342.2 379.5,341.9 379.6,341.8 379.8,341.7 380.0,342.0 380.2,341.9 380.4,341.7 380.6,341.8 380.8,341.9 381.0,341.8 381.2,341.8 381.3,341.8 381.5,341.7 381.7,341.6 381.9,341.6 382.1,341.5 382.3,341.5 382.5,341.5 382.7,341.6 382.9,341.6 383.0,341.7 383.2,341.7 383.4,342.1 383.6,342.4 383.8,342.1 384.0,341.9 384.2,341.9 384.4,342.0 384.5,341.8 384.7,341.7 384.9,341.9 385.1,342.1 385.3,342.0 385.5,341.7 385.7,341.6 385.9,341.7 386.1,342.1 386.2,342.1 386.4,341.8 386.6,341.6 386.8,341.7 387.0,341.7 387.2,341.9 387.4,341.8 387.6,341.5 387.7,341.6 387.9,341.9 388.1,342.1 388.3,341.9 388.5,341.7 388.7,341.7 388.9,341.8 389.1,341.6 389.2,341.5 389.4,341.8 389.6,341.8 389.8,341.9 390.0,342.0 390.2,342.0 390.4,341.7 390.6,341.7 390.8,341.9 390.9,342.0 391.1,341.8 391.3,341.5 391.5,341.5 391.7,341.8 391.9,342.0 392.1,341.9 392.3,342.1 392.4,342.0 392.6,341.9 392.8,341.8 393.0,341.9 393.2,342.0 393.4,342.0 393.6,341.8 393.8,341.7 393.9,341.8 394.1,341.7 394.3,341.6 394.5,341.5 394.7,341.6 394.9,341.9 395.1,342.0 395.3,341.6 395.5,341.7 395.6,342.2 395.8,342.3 396.0,341.9 396.2,341.6 396.4,341.6 396.6,341.6 396.8,341.8 397.0,342.0 397.1,342.0 397.3,341.8 397.5,341.5 397.7,341.4 397.9,341.6 398.1,341.7 398.3,341.7 398.5,341.7 398.7,341.8 398.9,342.0 399.0,342.1 399.2,341.8 399.4,341.6 399.6,341.8 399.8,342.0 400.0,341.9 400.2,341.7 400.4,341.8 400.5,341.8 400.7,341.8 400.9,341.6 401.1,341.8 401.3,342.0 401.5,342.2 401.7,342.2 401.9,342.0 402.1,341.8 402.2,341.8 402.4,341.8 402.6,341.7 402.8,341.4 403.0,341.4 403.2,341.4 403.4,341.5 403.6,341.5 403.7,341.6 403.9,341.7 404.1,341.6 404.3,341.6 404.5,341.8 404.7,341.9 404.9,341.9 405.1,341.6 405.2,341.5 405.4,341.5 405.6,341.6 405.8,341.6 406.0,341.6 406.2,341.9 406.4,342.0 406.6,341.9 406.8,341.7 406.9,342.0 407.1,342.4 407.3,342.4 407.5,342.1 407.7,341.9 407.9,341.7 408.1,341.7 408.3,341.8 408.4,341.7 408.6,341.5 408.8,341.6 409.0,341.8 409.2,341.6 409.4,341.4 409.6,341.7 409.8,341.9 409.9,341.8 410.1,341.6 410.3,341.6 410.5,341.6 410.7,341.5 410.9,341.4 411.1,341.8 411.3,342.1 411.5,341.8 411.6,341.5 411.8,341.7 412.0,342.0 412.2,341.9 412.4,341.5 412.6,341.3 412.8,341.5 413.0,341.8 413.1,342.0 413.3,341.8 413.5,341.5 413.7,341.4 413.9,341.7 414.1,341.9 414.3,341.9 414.5,341.6 414.7,341.6 414.8,341.9 415.0,342.3 415.2,342.3 415.4,342.2 415.6,341.9 415.8,341.7 416.0,341.4 416.2,341.5 416.4,341.5 416.5,341.5 416.7,341.5 416.9,341.6 417.1,341.7 417.3,341.8 417.5,341.8 417.7,341.9 417.9,342.0 418.0,342.0 418.2,341.8 418.4,341.8 418.6,341.8 418.8,341.7 419.0,341.8 419.2,342.0 419.4,342.3 419.6,342.1 419.7,341.6 419.9,341.3 420.1,341.5 420.3,341.8 420.5,341.9 420.7,341.8 420.9,341.8 421.1,341.9 421.2,341.9 421.4,341.9 421.6,341.8 421.8,341.6 422.0,341.5 422.2,341.5 422.4,341.3 422.6,341.1 422.8,341.3 422.9,341.6 423.1,341.7 423.3,341.6 423.5,341.5 423.7,341.5 423.9,341.4 424.1,341.2 424.2,341.3 424.4,341.6 424.6,341.7 424.8,341.5 425.0,341.7 425.2,342.0 425.4,342.0 425.6,341.8 425.8,342.0 425.9,342.2 426.1,342.1 426.3,341.7 426.5,341.6 426.7,341.6 426.9,341.6 427.1,341.5 427.3,341.7 427.4,342.1 427.6,342.2 427.8,342.0 428.0,341.7 428.2,341.5 428.4,341.5 428.6,341.7 428.8,341.7 429.0,341.7 429.1,341.7 429.3,341.9 429.5,342.1 429.7,342.4 429.9,342.2 430.1,341.7 430.3,341.3 430.5,341.2 430.6,341.4 430.8,341.5 431.0,341.4 431.2,341.3 431.4,341.6 431.6,341.7 431.8,341.7 432.0,341.7 432.2,341.8 432.4,341.9 432.5,341.9 432.7,341.8 432.9,341.6 433.1,341.5 433.3,341.7 433.5,341.9 433.7,341.8 433.9,341.7 434.0,341.6 434.2,341.7 434.4,341.7 434.6,341.7 434.8,341.4 435.0,341.3 435.2,341.5 435.4,341.5 435.6,341.6 435.7,341.5 435.9,341.5 436.1,341.5 436.3,341.4 436.5,341.3 436.7,341.3 436.9,341.1 437.1,341.0 437.2,341.2 437.4,341.6 437.6,341.7 437.8,341.8 438.0,342.0 438.2,342.2 438.4,342.1 438.6,342.0 438.7,341.8 438.9,341.6 439.1,341.8 439.3,341.9 439.5,341.7 439.7,341.4 439.9,341.4 440.1,341.6 440.2,341.6 440.4,341.4 440.6,341.5 440.8,341.7 441.0,341.7 441.2,341.8 441.4,341.6 441.6,341.4 441.8,341.4 441.9,341.7 442.1,341.9 442.3,341.7 442.5,341.4 442.7,341.4 442.9,341.8 443.1,342.0 443.3,341.9 443.4,341.5 443.6,341.2 443.8,341.4 444.0,341.4 444.2,341.5 444.4,341.7 444.6,341.9 444.8,341.5 445.0,341.1 445.1,341.2 445.3,341.4 445.5,341.3 445.7,341.3 445.9,341.5 446.1,341.7 446.3,341.7 446.5,341.5 446.6,341.4 446.8,341.4 447.0,341.5 447.2,341.5 447.4,341.6 447.6,341.4 447.8,341.4 448.0,341.4 448.1,341.7 448.3,341.6 448.5,341.7 448.7,341.7 448.9,341.7 449.1,341.5 449.3,341.3 449.5,341.4 449.7,341.2 449.9,341.1 450.0,341.1 450.2,341.2 450.4,341.1 450.6,341.0 450.8,341.2 451.0,341.4 451.2,341.8 451.4,341.6 451.5,341.2 451.7,341.0 451.9,341.0 452.1,341.0 452.3,341.0 452.5,341.1 452.7,341.1 452.9,341.2 453.1,341.4 453.2,341.6 453.4,341.3 453.6,341.1 453.8,341.0 454.0,341.0 454.2,340.8 454.4,340.8 454.6,340.9 454.7,341.1 454.9,341.0 455.1,340.7 455.3,340.7 455.5,341.0 455.7,341.0 455.9,340.7 456.1,340.6 456.2,340.6 456.4,340.5 456.6,340.6 456.8,340.9 457.0,340.8 457.2,340.5 457.4,340.3 457.6,340.3 457.8,340.3 457.9,340.6 458.1,340.8 458.3,340.6 458.5,340.2 458.7,340.1 458.9,340.0 459.1,339.8 459.3,339.7 459.4,339.7 459.6,339.5 459.8,339.5 460.0,339.4 460.2,339.2 460.4,339.0 460.6,339.1 460.8,339.0 460.9,338.9 461.1,338.9 461.3,338.7 461.5,338.4 461.7,338.1 461.9,337.8 462.1,337.7 462.3,337.6 462.5,337.4 462.6,337.0 462.8,336.6 463.0,336.1 463.2,335.6 463.4,334.9 463.6,334.3" fill="none" stroke="#00ff00" stroke-width="1.45" stroke-linejoin="round" stroke-linecap="round"/>
<polyline points="463.4,334.9 463.6,334.3 463.8,333.5 464.0,332.7 464.1,331.7 464.3,330.8 464.5,329.7 464.7,328.5 464.9,326.8 465.1,324.7 465.3,322.6 465.5,320.2 465.7,317.5 465.9,315.0 466.0,312.8 466.2,310.3 466.4,308.2 466.6,306.9 466.7,306.8 466.8,306.4 467.0,306.5 467.2,307.1 467.4,308.2 467.5,309.6 467.7,310.8 467.9,311.8 468.1,312.8 468.3,314.2 468.5,315.3 468.7,316.6 468.9,318.1 469.0,319.9 469.2,322.0 469.4,324.0 469.6,325.6 469.8,327.1 470.0,328.7 470.2,330.1 470.4,331.4 470.6,332.4 470.7,333.1 470.9,333.5 471.1,334.2 471.3,335.3 471.5,336.0 471.7,336.2 471.9,336.5 472.1,337.2 472.2,337.7 472.4,338.1 472.6,338.3 472.8,338.4 473.0,338.6 473.2,338.7 473.4,338.9 473.6,339.2 473.8,339.5 473.9,339.5 474.1,339.6 474.3,339.5 474.5,339.6 474.7,339.3 474.9,339.2 475.1,339.5 475.3,339.9 475.4,340.0 475.6,339.8 475.8,340.0 476.0,340.3 476.2,340.4 476.4,340.3 476.6,340.3 476.8,340.3 476.9,340.1 477.1,339.2 477.3,337.5 477.5,335.8 477.7,334.9 477.9,336.1 478.1,338.0 478.3,339.5 478.4,340.2 478.6,340.2 478.8,340.1 479.0,340.1 479.2,340.0 479.4,339.4 479.6,338.8 479.7,338.7 479.8,338.7 480.0,339.2 480.1,339.9 480.3,340.4 480.5,340.5 480.7,340.4 480.9,340.5 481.1,341.0 481.3,341.3 481.5,341.2 481.6,341.2" fill="none" stroke="#00ff00" stroke-width="1.2" stroke-linejoin="round" stroke-linecap="round"/>
<polyline points="481.5,341.2 481.6,341.2 481.8,341.2 482.0,341.3 482.2,341.2 482.4,341.1 482.6,341.1 482.8,341.2 483.0,341.4 483.2,341.7 483.4,341.7 483.5,341.5 483.7,341.4 483.9,341.3 484.1,341.4 484.3,341.2 484.5,341.0 484.7,341.0 484.9,341.0 485.0,340.9 485.2,341.0 485.4,341.2 485.6,341.2 485.8,340.9 486.0,341.0 486.2,341.2 486.4,341.3 486.6,341.3 486.7,341.5 486.9,341.6 487.1,341.3 487.3,341.0 487.5,341.1 487.7,341.4 487.9,341.2 488.1,341.2 488.2,341.4 488.4,341.5 488.6,341.2 488.8,341.2 489.0,341.3 489.2,341.6 489.4,341.6 489.6,341.3 489.8,341.1 489.9,341.2 490.1,341.3 490.3,341.2 490.5,341.3 490.7,341.2 490.9,341.4 491.1,341.3 491.2,341.2 491.4,341.2 491.6,341.3 491.8,341.3 492.0,341.4 492.2,341.1 492.4,341.0 492.6,341.3 492.8,341.7 492.9,341.7 493.1,341.6 493.3,341.5 493.5,341.3 493.7,341.3 493.9,341.6 494.1,341.8 494.3,341.7 494.4,341.6 494.6,341.6 494.8,341.5 495.0,341.5 495.2,341.5 495.4,341.4 495.6,341.3 495.8,341.3 496.0,341.5 496.1,341.2 496.3,341.0 496.5,341.0 496.7,341.3 496.9,341.6 497.1,341.9 497.3,341.6 497.5,341.3 497.6,341.2 497.8,341.3 498.0,341.4 498.2,341.4 498.4,341.5 498.6,341.7 498.8,341.6 499.0,341.1 499.2,341.0 499.4,341.2 499.5,341.4 499.7,341.7 499.9,342.0 500.1,342.0 500.3,341.9 500.5,341.9 500.7,341.9 500.9,341.7 501.0,341.7 501.2,341.7 501.4,341.5 501.6,341.3 501.8,341.3 502.0,341.3 502.2,341.5 502.4,341.5 502.5,341.7 502.7,341.9 502.9,341.7 503.1,341.6 503.3,341.5 503.5,341.7 503.7,341.8 503.9,341.8 504.1,341.6 504.2,341.6 504.4,341.5 504.6,341.6 504.8,341.6 505.0,341.6 505.2,341.5 505.4,341.5 505.6,341.4 505.7,341.4 505.9,341.5 506.1,341.8 506.3,341.6 506.5,341.9 506.7,342.0 506.9,341.9 507.1,341.4 507.2,341.6 507.4,341.6 507.6,341.7 507.8,341.5 508.0,341.5 508.2,341.4 508.4,341.6 508.6,341.6 508.8,341.5 508.9,341.4 509.1,341.4 509.3,341.3 509.5,341.3 509.7,341.3 509.9,341.4 510.1,341.4 510.3,341.4 510.4,341.4 510.6,341.5 510.8,341.6 511.0,341.5 511.2,341.5 511.4,341.7 511.6,341.8 511.8,341.5 511.9,341.3 512.1,341.2 512.3,341.4 512.5,341.7 512.7,341.8 512.9,341.8 513.1,341.8 513.3,341.6 513.5,341.4 513.6,341.7 513.8,341.6 514.0,341.4 514.2,341.4 514.4,341.7 514.6,341.9 514.8,342.1 515.0,342.1 515.1,341.7 515.3,341.5 515.5,341.5 515.7,341.5 515.9,341.5 516.1,341.5 516.3,341.6 516.5,341.8 516.7,342.0 516.9,341.9 517.0,341.5 517.2,341.4 517.4,341.6 517.6,341.8 517.8,341.6 518.0,341.5 518.2,341.5 518.4,341.6 518.5,341.5 518.7,341.4 518.9,341.3 519.1,341.3 519.3,341.3 519.5,341.4 519.7,341.5 519.9,341.5 520.0,341.5 520.2,341.6 520.4,341.6 520.6,341.6 520.8,341.5" fill="none" stroke="#00ff00" stroke-width="1.45" stroke-linejoin="round" stroke-linecap="round"/>
<polyline points="50.3,322.2 50.5,322.0 50.7,322.1 50.9,322.5 51.0,322.8 51.2,322.7 51.4,322.4 51.6,322.5 51.8,322.6 52.0,322.5 52.2,322.6 52.4,322.6 52.6,322.4 52.8,322.4 52.9,322.4 53.1,322.3 53.3,322.4 53.5,322.4 53.7,322.2 53.9,322.3 54.1,322.5 54.2,322.7 54.4,322.5 54.6,322.4 54.8,322.5 55.0,322.6 55.2,322.7 55.4,322.6 55.6,322.4 55.8,322.3 56.0,322.2 56.1,322.5 56.3,322.8 56.5,322.6 56.7,322.3 56.9,322.3 57.1,322.5 57.3,322.6 57.5,322.6 57.6,322.4 57.8,322.5 58.0,322.5 58.2,322.5 58.4,322.4 58.6,322.4 58.8,322.4 59.0,322.3 59.1,322.3 59.3,322.4 59.5,322.4 59.7,322.4 59.9,322.3 60.1,322.1 60.3,322.3 60.5,322.4 60.6,322.4 60.8,322.4 61.0,322.3 61.2,322.3 61.4,322.2 61.6,322.3 61.8,322.3 62.0,322.5 62.2,322.6 62.3,322.8 62.5,322.8 62.7,322.6 62.9,322.3 63.1,322.4 63.3,322.6 63.5,322.8 63.7,322.6 63.9,322.4 64.0,322.4 64.2,322.5 64.4,322.4 64.6,322.0 64.8,321.8 65.0,322.2 65.2,322.5 65.4,322.3 65.5,322.1 65.7,322.0 65.9,322.3 66.1,322.6 66.3,322.5 66.5,322.3 66.7,322.3 66.9,322.4 67.0,322.4 67.2,322.3 67.4,322.3 67.6,322.2 67.8,322.4 68.0,322.5 68.2,322.4 68.4,322.0 68.6,322.2 68.7,322.6 68.9,322.7 69.1,322.5 69.3,322.5 69.5,322.6 69.7,322.4 69.9,322.3 70.1,322.5 70.2,322.6 70.4,322.4 70.6,322.3 70.8,322.6 71.0,322.6 71.2,322.3 71.4,322.1 71.6,322.2 71.8,322.3 71.9,322.5 72.1,322.4 72.3,322.2 72.5,322.3 72.7,322.4 72.9,322.7 73.1,322.6 73.3,322.6 73.5,322.4 73.6,322.4 73.8,322.4 74.0,322.5 74.2,322.4 74.4,322.2 74.6,322.3 74.8,322.4 75.0,322.4 75.1,322.5 75.3,322.6 75.5,322.5 75.7,322.7 75.9,322.9 76.1,322.7 76.3,322.7 76.5,322.8 76.7,322.7 76.8,322.3 77.0,322.2 77.2,322.2 77.4,322.1 77.6,322.1 77.8,322.3 78.0,322.5 78.2,322.5 78.3,322.5 78.5,322.4 78.7,322.3 78.9,322.3 79.1,322.3 79.3,322.4 79.5,322.4 79.7,322.6 79.8,322.5 80.0,322.4 80.2,322.1 80.4,322.1 80.6,322.1 80.8,322.3 81.0,322.6 81.2,322.7 81.3,322.7 81.5,322.9 81.7,322.9 81.9,322.5 82.1,322.1 82.3,322.0 82.5,322.1 82.7,322.2 82.9,322.1 83.0,322.0 83.2,322.2 83.4,322.3 83.6,322.2 83.8,322.1 84.0,322.1 84.2,322.2 84.4,322.4 84.5,322.5 84.7,322.2 84.9,322.0 85.1,321.9 85.3,322.1 85.5,322.3 85.7,322.4 85.9,322.1 86.1,322.1 86.2,322.5 86.4,322.5 86.6,322.2 86.8,321.9 87.0,322.0 87.2,322.2 87.4,322.7 87.6,322.7 87.8,322.5 87.9,322.1 88.1,322.2 88.3,322.2 88.5,322.2 88.7,322.3 88.9,322.4 89.1,322.1 89.3,322.2 89.5,322.6 89.6,322.7 89.8,322.5 90.0,322.5 90.2,322.6 90.4,322.3 90.6,322.0 90.8,322.0 91.0,322.1 91.1,322.2 91.3,322.1 91.5,321.9 91.7,321.8 91.9,321.7 92.1,322.0 92.3,322.2 92.5,322.2 92.6,322.1 92.8,322.3 93.0,322.3 93.2,322.1 93.4,322.1 93.6,322.3 93.8,322.3 94.0,322.2 94.2,322.2 94.3,322.4 94.5,322.3 94.7,322.3 94.9,322.4 95.1,322.3 95.3,322.2 95.5,322.4 95.7,322.4 95.8,322.4 96.0,322.3 96.2,322.2 96.4,321.9 96.6,322.2 96.8,322.4 97.0,322.4 97.2,322.4 97.3,322.5 97.5,322.6 97.7,322.8 97.9,322.9 98.1,322.3 98.3,321.8 98.5,321.7 98.7,322.0 98.9,322.1 99.0,322.1 99.2,321.9 99.4,321.9 99.6,322.0 99.8,321.9 100.0,321.9 100.2,322.1 100.4,322.3 100.5,322.3 100.7,322.1 100.9,322.1 101.1,322.2 101.3,322.5 101.5,322.6 101.7,322.4 101.9,322.1 102.0,322.2 102.2,322.4 102.4,322.4 102.6,321.9 102.8,321.7 103.0,321.6 103.2,321.9 103.4,322.2 103.6,322.3 103.8,322.1 103.9,322.4 104.1,322.8 104.3,322.6 104.5,322.1 104.7,321.9 104.9,321.8 105.1,321.8 105.2,322.3 105.4,322.8 105.6,322.8 105.8,322.3 106.0,322.1 106.2,322.3 106.4,322.2 106.6,321.8 106.8,321.9 107.0,322.3 107.1,322.6 107.3,322.5 107.5,322.6 107.7,322.4 107.9,322.3 108.1,322.4 108.3,322.6 108.5,322.5 108.6,322.3 108.8,322.2 109.0,322.0 109.2,321.9 109.4,322.3 109.6,322.6 109.8,322.3 110.0,322.1 110.2,322.2 110.3,322.3 110.5,321.9 110.7,321.8 110.9,322.1 111.1,322.5 111.3,322.1 111.5,321.7 111.7,321.8 111.8,322.2 112.0,322.5 112.2,322.3 112.4,322.2 112.6,322.1 112.8,322.1 113.0,321.9 113.2,322.0 113.3,322.0 113.5,322.2 113.7,322.3 113.9,322.3 114.1,322.3 114.3,322.2 114.5,322.2 114.7,322.2 114.8,322.5 115.0,322.2 115.2,322.0 115.4,322.2 115.6,322.6 115.8,322.3 116.0,321.8 116.2,321.7 116.4,322.0 116.5,322.2 116.7,322.2 116.9,322.3 117.1,322.3 117.3,322.2 117.5,321.8 117.7,321.7 117.9,321.9 118.0,322.2 118.2,322.3 118.4,322.3 118.6,322.1 118.8,321.6 119.0,321.3 119.2,321.7 119.4,322.1 119.6,322.0 119.8,321.9 119.9,322.3 120.1,322.5 120.3,322.2 120.5,321.8 120.7,322.1 120.9,322.3 121.1,322.4 121.2,322.3 121.4,322.5 121.6,322.3 121.8,322.2 122.0,322.2 122.2,322.4 122.4,322.4 122.6,322.2 122.8,322.1 123.0,321.9 123.1,322.1 123.3,322.1 123.5,322.1 123.7,321.9 123.9,321.9 124.1,321.9 124.3,322.0 124.5,322.0 124.6,322.0 124.8,322.0 125.0,321.7 125.2,321.8 125.4,321.9 125.6,322.0 125.8,321.8 126.0,322.0 126.1,322.0 126.3,322.1 126.5,322.2 126.7,322.5 126.9,322.6 127.1,322.5 127.3,322.1 127.5,322.0 127.7,322.3 127.8,322.5 128.0,322.4 128.2,322.3 128.4,322.1 128.6,322.1 128.8,322.3 129.0,322.2 129.2,322.1 129.3,322.1 129.5,322.3 129.7,322.2 129.9,322.3 130.1,322.4 130.3,322.4 130.5,322.1 130.7,322.0 130.8,322.0 131.0,322.0 131.2,321.9 131.4,321.8 131.6,321.9 131.8,322.2 132.0,322.3 132.2,322.2 132.4,322.1 132.5,322.2 132.7,322.0 132.9,321.9 133.1,321.9 133.3,322.1 133.5,322.1 133.7,322.2 133.9,322.2 134.1,322.2 134.2,322.3 134.4,322.3 134.6,322.3 134.8,322.2 135.0,322.2 135.2,322.0 135.4,322.0 135.6,322.1 135.7,322.2 135.9,322.1 136.1,322.1 136.3,321.9 136.5,321.8 136.7,322.0 136.9,322.1 137.1,321.7 137.2,321.5 137.4,321.6 137.6,322.0 137.8,322.1 138.0,322.0 138.2,321.7 138.4,321.7 138.6,321.6 138.8,321.5 138.9,321.3 139.1,321.3 139.3,321.3 139.5,321.1 139.7,320.9 139.9,320.4 140.1,320.0 140.3,319.9 140.4,319.7 140.6,319.6 140.8,319.5 141.0,319.8 141.2,320.2 141.4,320.5 141.6,320.4 141.8,320.6 141.9,321.2 142.1,321.4 142.3,321.3 142.5,321.3 142.7,321.3 142.9,321.6 143.1,321.8 143.3,321.7 143.5,321.7 143.7,322.0 143.8,321.9 144.0,321.7 144.2,321.4 144.4,321.3 144.6,321.2 144.8,321.2 145.0,321.0 145.2,320.7 145.3,320.6 145.5,320.8 145.7,321.1 145.9,321.1 146.1,320.8 146.3,320.5 146.5,320.4 146.7,320.1 146.8,319.4 147.0,318.7 147.2,317.8 147.4,316.2 147.6,314.0 147.8,312.1 148.0,310.3 148.2,309.4 148.3,309.1 148.3,309.1 148.5,310.0 148.7,312.0 148.9,313.8 149.1,315.4 149.3,317.0 149.5,318.2 149.7,318.9 149.9,319.5 150.1,319.9 150.2,320.0 150.4,320.2 150.6,320.6 150.8,320.9 151.0,320.8 151.2,321.2 151.4,321.6 151.6,321.5 151.7,321.4 151.9,321.5 152.1,321.4 152.3,321.2 152.5,321.2 152.7,321.4 152.9,321.6 153.1,321.5 153.2,321.4 153.4,321.4 153.6,321.4 153.8,321.4 154.0,321.3 154.2,321.3 154.4,321.3 154.6,321.3 154.8,321.4 154.9,321.4 155.1,321.4 155.3,321.2 155.5,321.2 155.7,321.3 155.9,321.4 156.1,321.5 156.3,321.4 156.4,321.5 156.6,321.7 156.8,321.8 157.0,321.7 157.2,321.7 157.4,321.6 157.6,321.5 157.8,321.7 157.9,322.0 158.1,322.0 158.3,321.7 158.5,321.5 158.7,321.7 158.9,321.9 159.1,321.8 159.3,321.8 159.5,321.8 159.6,321.8 159.8,321.7 160.0,321.6 160.2,321.4 160.4,321.6 160.6,321.7 160.8,321.7 161.0,321.5 161.2,321.5 161.3,321.3 161.5,321.1 161.7,321.1 161.9,321.1 162.1,321.2 162.3,321.2 162.5,321.1 162.7,321.0 162.8,321.0 163.0,321.0 163.2,321.1 163.4,321.2 163.6,321.3 163.8,321.0 164.0,320.8 164.2,320.7 164.3,320.8 164.5,320.8 164.7,320.8 164.9,320.6 165.1,320.5 165.3,320.8 165.5,321.0 165.7,320.9 165.8,320.7 166.0,320.8 166.2,320.9 166.4,320.6 166.6,320.3 166.8,320.5 167.0,320.8 167.2,320.7 167.4,320.2 167.6,320.3 167.7,320.2 167.9,320.0 168.1,319.9 168.3,320.1 168.5,320.0 168.7,319.9 168.9,319.5 169.1,319.1 169.2,319.1 169.4,319.2 169.6,319.1 169.8,319.2 170.0,319.3 170.2,319.2 170.4,318.9 170.6,318.8 170.8,318.6 170.9,318.3 171.1,318.2 171.3,318.1 171.5,317.7 171.7,317.1" fill="none" stroke="#0000ff" stroke-width="1.45" stroke-linejoin="round" stroke-linecap="round"/>
<polyline points="171.3,318.1 171.5,317.7 171.7,317.1 171.9,317.0 172.1,316.8 172.2,316.5 172.4,316.3 172.6,316.2 172.8,315.6 173.0,314.9 173.2,314.0 173.4,313.1 173.6,312.2 173.8,311.4 173.9,310.0 174.1,308.0 174.3,305.5 174.5,301.9 174.7,297.2 174.9,290.9 175.1,282.5 175.3,272.2 175.4,258.7 175.6,242.1 175.8,222.8 176.0,201.8 176.2,180.0 176.4,159.9 176.5,148.8 176.6,141.4 176.8,127.6 176.8,126.2 177.0,121.6 177.0,121.3 177.2,123.9 177.3,134.1 177.5,150.9 177.7,171.3 177.9,193.1 178.1,214.4 178.3,234.0 178.5,250.5 178.7,265.2 178.8,277.3 179.0,287.1 179.2,294.7 179.4,299.9 179.6,303.7 179.8,306.7 180.0,308.8 180.2,310.6 180.3,311.9 180.5,312.6 180.7,313.0 180.9,313.4 181.1,313.6 181.3,313.7 181.5,313.7 181.7,313.1 181.8,311.7 182.0,309.4 182.2,305.8 182.4,300.2 182.6,294.0 182.8,289.0 182.9,288.2 183.0,289.1 183.2,294.1 183.4,300.8 183.6,306.6 183.7,310.9 183.9,314.1 184.1,315.7 184.3,316.5 184.5,317.0 184.7,317.7 184.9,318.2 185.1,318.7 185.2,319.0 185.4,319.2 185.6,319.2" fill="none" stroke="#0000ff" stroke-width="1.2" stroke-linejoin="round" stroke-linecap="round"/>
<polyline points="185.4,319.2 185.6,319.2 185.8,319.3 186.0,319.6 186.2,319.8 186.4,319.8 186.6,319.6 186.7,319.8 186.9,319.9 187.1,320.0 187.3,319.9 187.5,319.9 187.7,320.0 187.9,320.3 188.1,320.6 188.2,320.8 188.4,320.9 188.6,320.8 188.8,320.6 189.0,320.7 189.2,321.2 189.4,321.0 189.6,320.5 189.8,320.3 189.9,320.6 190.1,320.6 190.3,320.6 190.5,320.7 190.7,320.5 190.9,320.4 191.1,320.6 191.3,321.0 191.4,321.1 191.6,321.2 191.8,321.1 192.0,320.9 192.2,320.7 192.4,320.6 192.6,320.9 192.8,321.2 193.0,321.5 193.1,321.5 193.3,321.1 193.5,320.9 193.7,321.2 193.9,321.3 194.1,320.9 194.3,320.7 194.5,321.1 194.7,321.2 194.8,321.0 195.0,320.9 195.2,320.9 195.4,320.8 195.6,320.9 195.8,321.0 196.0,321.1 196.2,320.8 196.3,320.9 196.5,321.1 196.7,321.3 196.9,321.0 197.1,321.1 197.3,321.0 197.5,321.1 197.7,321.1 197.8,321.4 198.0,321.3 198.2,321.1 198.4,321.0 198.6,321.4 198.8,321.5 199.0,321.3 199.2,321.1 199.3,321.3 199.5,321.4 199.7,321.5 199.9,321.5 200.1,321.4 200.3,321.4 200.5,321.3 200.7,321.1 200.9,321.0 201.1,321.0 201.2,321.2 201.4,321.3 201.6,321.5 201.8,321.6 202.0,321.6 202.2,321.3 202.4,321.1 202.6,321.2 202.7,321.4 202.9,321.2 203.1,321.2 203.3,321.5 203.5,321.8 203.7,321.7 203.9,321.6 204.1,321.6 204.2,321.8 204.4,322.0 204.6,321.8 204.8,321.6 205.0,321.5 205.2,321.5 205.4,321.4 205.6,321.4 205.8,321.4 205.9,321.3 206.1,321.2 206.3,321.3 206.5,321.3 206.7,321.1 206.9,321.1 207.1,321.3 207.3,321.5 207.4,321.4 207.6,321.5 207.8,321.4 208.0,321.5 208.2,321.6 208.4,321.7 208.6,321.7 208.8,321.8 208.9,321.5 209.1,321.3 209.3,321.4 209.5,321.5 209.7,321.3 209.9,321.3 210.1,321.6 210.3,321.6 210.5,321.5 210.7,321.5 210.8,321.9 211.0,322.1 211.2,321.9 211.4,321.5 211.6,321.2 211.8,321.2 212.0,321.3 212.2,321.5 212.3,321.5 212.5,321.3 212.7,321.0 212.9,321.2 213.1,321.7 213.3,321.7 213.5,321.5 213.7,321.3 213.8,321.3 214.0,321.2 214.2,321.2 214.4,321.2 214.6,321.4 214.8,321.0 215.0,321.0 215.2,321.3 215.3,321.3 215.5,321.3 215.7,321.4 215.9,321.5 216.1,321.1 216.3,321.1 216.5,321.4 216.7,321.6 216.9,321.4 217.1,321.2 217.2,321.2 217.4,321.3 217.6,321.3 217.8,321.2 218.0,321.0 218.2,320.8 218.4,321.1 218.6,321.1 218.7,321.0 218.9,321.0 219.1,321.3 219.3,321.6 219.5,321.9 219.7,321.9 219.9,321.6 220.1,321.2 220.2,320.9 220.4,320.8 220.6,321.1 220.8,321.0 221.0,320.9 221.2,320.8 221.4,321.1 221.6,321.3 221.8,321.4 221.9,321.1 222.1,321.1 222.3,321.1 222.5,321.0 222.7,320.8 222.9,320.9 223.1,321.2 223.3,321.4 223.4,321.4 223.6,321.3 223.8,321.5 224.0,321.5 224.2,321.2 224.4,320.8 224.6,320.8 224.8,321.2 224.9,321.4 225.1,321.4 225.3,321.3 225.5,321.0 225.7,320.7 225.9,320.5 226.1,320.5 226.3,320.5 226.5,320.7 226.6,320.8 226.8,320.7 227.0,320.6 227.2,320.9 227.4,320.9 227.6,320.7 227.8,320.8 228.0,320.9 228.2,321.0 228.3,320.9 228.5,321.0 228.7,321.0 228.9,320.9 229.1,320.8 229.3,320.9 229.5,320.9 229.7,320.7 229.8,320.5 230.0,320.4 230.2,320.4 230.4,320.4 230.6,320.5 230.8,320.6 231.0,320.5 231.2,320.5 231.3,320.6 231.5,320.8 231.7,320.7 231.9,320.4 232.1,320.3 232.3,320.2 232.5,320.1 232.7,320.0 232.8,319.8 233.0,319.5 233.2,319.5 233.4,319.9 233.6,320.1 233.8,319.9 234.0,319.8 234.2,319.8 234.4,319.6 234.6,319.5 234.7,319.4 234.9,319.2 235.1,319.0 235.3,319.1 235.5,319.0 235.7,318.8 235.9,318.9 236.1,319.1 236.2,318.9 236.4,318.8 236.6,318.5 236.8,318.2 237.0,318.1 237.2,318.3 237.4,318.6 237.6,318.4 237.8,317.7 237.9,317.3 238.1,317.3 238.3,317.0 238.5,316.5 238.7,316.4 238.9,316.4 239.1,316.0 239.2,315.0 239.4,314.3 239.6,314.1 239.8,313.9 240.0,313.4 240.2,312.5 240.4,311.6 240.6,311.0" fill="none" stroke="#0000ff" stroke-width="1.45" stroke-linejoin="round" stroke-linecap="round"/>
<polyline points="240.4,311.6 240.6,311.0 240.8,310.2 240.9,309.0 241.1,307.7 241.3,306.3 241.5,304.5 241.7,302.4 241.9,300.0 242.1,297.4 242.3,294.6 242.4,291.0 242.6,286.7 242.8,282.2 243.0,277.0 243.2,271.6 243.4,266.5 243.6,262.0 243.8,258.5 244.0,256.7 244.0,256.8 244.2,257.3 244.3,259.5 244.5,263.6 244.7,269.1 244.9,274.7 245.1,280.1 245.3,285.1 245.5,289.4 245.7,293.2 245.8,296.3 246.0,299.0 246.2,301.8 246.4,304.4 246.6,306.3 246.8,307.5 247.0,308.7 247.2,309.8 247.3,310.9 247.5,311.7" fill="none" stroke="#0000ff" stroke-width="1.2" stroke-linejoin="round" stroke-linecap="round"/>
<polyline points="247.3,310.9 247.5,311.7 247.7,312.4 247.9,313.2 248.1,313.8 248.3,314.1 248.5,314.3 248.7,314.8 248.8,315.2 249.0,315.8 249.2,316.2 249.4,316.4 249.6,316.7 249.8,316.8 250.0,317.0 250.2,317.1 250.4,317.5 250.5,317.7 250.7,318.0 250.9,318.1 251.1,318.3 251.3,318.5 251.5,318.8 251.7,318.7 251.9,318.6 252.1,318.5 252.2,318.6 252.4,318.8 252.6,319.0 252.8,319.0 253.0,319.2 253.2,319.7 253.4,319.8 253.6,320.0 253.7,320.1 253.9,320.1 254.1,319.7 254.3,319.8 254.5,320.0 254.7,320.1 254.9,320.0 255.1,319.9 255.2,319.8 255.4,319.8 255.6,319.8 255.8,319.8 256.0,320.2 256.2,320.7 256.4,320.8 256.6,320.5 256.8,320.4 256.9,320.6 257.1,320.7 257.3,320.6 257.5,320.4 257.7,320.5 257.9,321.0 258.1,321.1 258.3,320.5 258.4,320.2 258.6,320.5 258.8,320.7 259.0,320.8 259.2,320.9 259.4,320.7 259.6,320.2 259.8,320.2 259.9,320.3 260.1,320.6 260.3,320.5 260.5,320.5 260.7,320.4 260.9,320.4 261.1,320.5 261.3,320.8 261.5,321.0 261.6,321.1 261.8,320.9 262.0,320.9 262.2,321.2 262.4,321.3 262.6,321.1 262.8,321.3 263.0,321.4 263.1,321.4 263.3,321.3 263.5,321.1 263.7,320.8 263.9,320.7 264.1,320.9 264.3,321.0 264.5,321.0 264.7,321.0 264.9,321.0 265.0,320.7 265.2,320.8 265.4,321.0 265.6,321.1 265.8,321.0 266.0,321.1 266.2,321.2 266.4,320.9 266.5,320.6 266.7,320.5 266.9,321.0 267.1,321.2 267.3,321.1 267.5,320.8 267.7,320.8 267.9,320.9 268.1,320.8 268.2,320.4 268.4,320.4 268.6,320.9 268.8,321.1 269.0,321.1 269.2,321.3 269.4,321.2 269.6,320.8 269.7,321.0 269.9,321.2 270.1,321.1 270.3,321.1 270.5,321.2 270.7,321.1 270.9,320.8 271.1,320.7 271.2,320.9 271.4,320.9 271.6,321.0 271.8,320.9 272.0,321.0 272.2,320.8 272.4,320.9 272.6,321.1 272.8,321.5 272.9,321.7 273.1,321.5 273.3,321.3 273.5,321.2 273.7,321.3 273.9,321.3 274.1,321.3 274.3,321.4 274.4,321.5 274.6,321.5 274.8,321.5 275.0,321.3 275.2,321.1 275.4,320.9 275.6,320.9 275.8,321.0 275.9,321.2 276.1,321.2 276.3,321.5 276.5,321.6 276.7,321.7 276.9,321.6 277.1,321.3 277.3,320.9 277.5,321.0 277.6,321.2 277.8,321.1 278.0,321.0 278.2,321.1 278.4,321.1 278.6,321.0 278.8,320.9 279.0,321.0 279.1,321.0 279.3,321.1 279.5,321.7 279.7,322.0 279.9,321.8 280.1,321.4 280.3,321.2 280.5,321.1 280.7,321.4 280.8,321.6 281.0,321.6 281.2,321.4 281.4,321.6 281.6,321.5 281.8,321.3 282.0,321.2 282.2,321.4 282.4,321.2 282.5,320.9 282.7,320.9 282.9,321.1 283.1,321.1 283.3,320.9 283.5,321.0 283.7,321.3 283.9,321.4 284.0,321.2 284.2,321.0 284.4,321.3 284.6,321.7 284.8,321.6 285.0,321.4 285.2,321.7 285.4,321.9 285.6,321.6 285.7,321.1 285.9,321.0 286.1,321.1 286.3,321.0 286.5,320.9 286.7,320.9 286.9,321.0 287.1,321.2 287.2,321.1 287.4,320.8 287.6,320.7 287.8,321.0 288.0,321.4 288.2,321.4 288.4,320.9 288.6,320.6 288.8,320.7 288.9,321.0 289.1,320.9 289.3,320.9 289.5,320.9 289.7,321.4 289.9,321.7 290.1,321.7 290.2,321.3 290.4,321.2 290.6,321.2 290.8,321.2 291.0,321.2 291.2,321.3 291.4,321.5 291.6,321.6 291.8,321.6 291.9,321.5 292.1,321.3 292.3,320.9 292.5,320.7 292.7,320.9 292.9,321.2 293.1,321.4 293.3,321.4 293.4,321.2 293.6,321.1 293.8,321.4 294.0,321.5 294.2,321.3 294.4,321.4 294.6,321.6 294.8,321.5 295.0,321.0 295.1,321.0 295.3,321.3 295.5,321.5 295.7,321.3 295.9,321.0 296.1,320.9 296.3,321.1 296.5,321.3 296.6,321.3 296.8,321.3 297.0,321.4 297.2,321.6 297.4,321.3 297.6,321.2 297.8,321.3 298.0,321.5 298.2,321.2 298.4,320.9 298.5,321.1 298.7,321.1 298.9,320.9 299.1,320.8 299.3,321.0 299.5,321.2 299.7,321.1 299.9,320.9 300.0,320.7 300.2,321.0 300.4,321.3 300.6,321.3 300.8,321.2 301.0,321.2 301.2,321.2 301.4,321.3 301.6,321.4 301.7,321.1 301.9,320.8 302.1,320.4 302.3,320.5 302.5,320.8 302.7,321.2 302.9,321.5 303.1,321.5 303.2,321.3 303.4,321.2 303.6,321.5 303.8,321.4 304.0,321.3 304.2,321.2 304.4,321.2 304.6,321.2 304.8,321.2 304.9,321.0 305.1,321.0 305.3,321.2 305.5,321.3 305.7,321.1 305.9,321.2 306.1,321.2 306.2,321.3 306.4,321.4 306.6,321.6 306.8,321.7 307.0,321.7 307.2,321.5 307.4,321.3 307.6,321.1 307.8,321.5 307.9,321.6 308.1,321.6 308.3,321.4 308.5,321.3 308.7,321.0 308.9,320.8 309.1,320.9 309.3,320.8 309.4,320.8 309.6,321.1 309.8,321.4 310.0,321.5 310.2,321.3 310.4,321.0 310.6,321.0 310.8,321.2 311.0,321.2 311.1,321.1 311.3,321.1 311.5,321.1 311.7,320.9 311.9,320.9 312.1,320.8 312.3,321.0 312.5,321.2 312.6,321.3 312.8,321.2 313.0,321.1 313.2,321.3 313.4,321.2 313.6,321.2 313.8,321.2 314.0,321.3 314.2,321.1 314.3,321.0 314.5,320.8 314.7,320.7 314.9,320.7 315.1,320.7 315.3,320.8 315.5,321.1 315.7,320.8 315.9,320.2 316.0,320.0 316.2,320.4 316.4,320.4 316.6,320.2 316.8,319.9 317.0,319.7 317.2,319.5 317.4,319.2 317.5,318.9 317.7,318.6 317.9,318.6 318.1,318.8 318.3,319.5 318.5,320.2 318.7,320.8 318.9,320.6 319.1,320.4 319.2,320.6 319.4,320.9 319.6,321.1 319.8,321.3 320.0,321.0 320.2,320.8 320.4,320.9 320.6,321.1 320.7,321.1 320.9,321.2 321.1,321.1 321.3,320.7 321.5,320.7 321.7,321.1 321.9,321.5 322.1,321.5 322.2,321.2 322.4,321.2 322.6,321.3 322.8,321.4 323.0,321.4 323.2,321.4 323.4,321.2 323.6,321.2 323.8,321.1 323.9,321.0 324.1,320.9 324.3,321.0 324.5,321.0 324.7,321.1 324.9,321.2 325.1,321.1 325.3,321.0 325.4,321.3 325.6,321.4 325.8,321.3 326.0,321.0 326.2,321.1 326.4,321.2 326.6,321.2 326.8,321.1 326.9,321.1 327.1,321.2 327.3,321.3 327.5,321.1 327.7,320.8 327.9,320.4 328.1,320.6 328.3,321.1 328.5,321.6 328.6,321.5 328.8,321.5 329.0,321.4 329.2,321.3 329.4,320.9 329.6,320.8 329.8,320.7 330.0,321.0 330.1,321.4 330.3,321.5 330.5,321.3 330.7,321.2 330.9,321.1 331.1,320.8 331.3,320.6 331.5,320.6 331.7,320.7 331.9,320.9 332.0,321.0 332.2,321.1 332.4,321.1 332.6,321.1 332.8,321.1 333.0,321.0 333.2,320.9 333.4,321.0 333.5,321.1 333.7,320.8 333.9,320.8 334.1,321.0 334.3,321.2 334.5,321.3 334.7,321.3 334.9,321.2 335.1,321.2 335.2,321.3 335.4,321.2 335.6,321.0 335.8,321.1 336.0,321.3 336.2,321.2 336.4,321.2 336.6,321.1 336.7,321.0 336.9,320.8 337.1,320.9 337.3,321.1 337.5,321.2 337.7,320.9 337.9,320.9 338.1,320.9 338.2,321.3 338.4,321.4 338.6,321.2 338.8,320.9 339.0,321.3 339.2,321.2 339.4,320.9 339.6,321.0 339.8,321.1 339.9,321.1 340.1,321.0 340.3,321.0 340.5,320.8 340.7,320.9 340.9,320.8 341.1,321.1 341.3,321.3 341.4,321.2 341.6,321.0 341.8,321.1 342.0,321.3 342.2,321.3 342.4,321.2 342.6,321.1 342.8,321.2 342.9,321.1 343.1,321.1 343.3,321.2 343.5,321.3 343.7,321.1 343.9,320.9 344.1,321.0 344.3,321.2 344.5,321.3 344.6,321.1 344.8,321.0 345.0,320.9 345.2,321.0 345.4,321.0 345.6,320.8 345.8,320.8 346.0,320.9 346.1,321.0 346.3,320.8 346.5,321.1 346.7,321.3 346.9,321.3 347.1,321.1 347.3,321.0 347.5,320.8 347.7,320.8 347.8,321.0 348.0,321.3 348.2,321.3 348.4,321.2 348.6,321.1 348.8,321.1 349.0,321.0 349.2,320.9 349.4,320.8 349.5,320.8 349.7,320.9 349.9,320.9 350.1,320.8 350.3,320.8 350.5,320.8 350.7,321.0 350.9,320.7 351.0,320.6 351.2,320.8 351.4,320.9 351.6,320.9 351.8,321.0 352.0,321.1 352.2,321.1 352.4,320.9 352.6,320.9 352.7,321.1 352.9,321.5 353.1,321.7 353.3,321.5 353.5,321.4 353.7,321.2 353.9,321.2 354.1,321.0 354.2,321.0 354.4,321.0 354.6,321.2 354.8,321.4 355.0,321.1 355.2,321.0 355.4,320.8 355.6,320.9 355.8,320.7 355.9,320.8 356.1,321.0 356.3,321.1 356.5,320.7 356.7,320.6 356.9,320.9 357.1,321.2 357.2,321.1 357.4,321.0 357.6,321.1 357.8,321.1 358.0,321.2 358.2,321.2 358.4,321.3 358.6,321.1 358.8,320.9 358.9,320.8 359.1,321.0 359.3,321.0 359.5,321.0 359.7,320.9 359.9,321.0 360.1,321.1 360.3,320.9 360.4,320.8 360.6,321.1 360.8,321.2 361.0,321.1 361.2,320.9 361.4,320.9 361.6,321.0 361.8,321.3 362.0,321.3 362.1,321.1 362.3,320.8 362.5,320.7 362.7,320.9 362.9,321.3 363.1,321.5 363.3,321.5 363.5,321.4 363.6,321.1 363.8,321.1 364.0,321.2 364.2,321.5 364.4,321.4 364.6,321.3 364.8,321.3 365.0,321.2 365.2,321.1 365.4,321.2 365.5,321.2 365.7,320.9 365.9,320.8 366.1,321.0 366.3,321.1 366.5,321.2 366.7,321.1 366.9,321.0 367.0,321.1 367.2,321.2 367.4,321.0 367.6,320.8 367.8,320.9 368.0,321.2 368.2,321.3 368.4,321.1 368.6,321.1 368.7,321.2 368.9,321.0 369.1,320.7 369.3,320.7 369.5,320.7 369.7,321.0 369.9,321.1 370.1,321.2 370.2,321.2 370.4,321.0 370.6,321.0 370.8,321.2 371.0,321.3 371.2,321.2 371.4,321.3 371.6,321.3 371.8,321.3 371.9,321.0 372.1,320.6 372.3,320.5 372.5,320.9 372.7,320.9 372.9,321.0 373.1,321.2 373.2,321.1 373.4,320.7 373.6,320.8 373.8,321.3 374.0,321.1 374.2,320.9 374.4,320.7 374.6,320.7 374.8,320.6 374.9,320.5 375.1,320.6 375.3,320.9 375.5,321.2 375.7,321.3 375.9,321.2 376.1,321.2 376.3,321.2 376.4,321.0 376.6,320.8 376.8,320.9 377.0,321.0 377.2,320.9 377.4,320.9 377.6,321.3 377.8,321.3 378.0,320.9 378.1,320.8 378.3,321.0 378.5,321.0 378.7,320.9 378.9,321.0 379.1,321.1 379.3,321.4 379.5,321.6 379.6,321.6 379.8,321.4 380.0,321.6 380.2,321.7 380.4,321.4 380.6,321.0 380.8,320.9 381.0,320.9 381.2,320.9 381.3,321.0 381.5,321.0 381.7,320.9 381.9,320.9 382.1,320.8 382.3,320.9 382.5,320.9 382.7,321.1 382.9,320.7 383.0,320.7 383.2,320.7 383.4,320.7 383.6,320.7 383.8,320.9 384.0,320.9 384.2,320.5 384.4,320.4 384.5,320.6 384.7,321.0 384.9,321.0 385.1,321.0 385.3,321.0 385.5,320.9 385.7,320.8 385.9,320.9 386.1,321.1 386.2,321.1 386.4,321.0 386.6,321.3 386.8,321.1 387.0,321.0 387.2,321.0 387.4,321.0 387.6,321.0 387.7,320.9 387.9,320.8 388.1,320.8 388.3,320.9 388.5,321.0 388.7,320.8 388.9,320.6 389.1,320.7 389.2,320.7 389.4,320.9 389.6,321.1 389.8,321.2 390.0,321.0 390.2,320.8 390.4,320.9 390.6,320.9 390.8,320.8 390.9,320.8 391.1,320.9 391.3,320.8 391.5,320.7 391.7,320.7 391.9,320.7 392.1,320.6 392.3,320.7 392.4,320.9 392.6,320.7 392.8,320.5 393.0,320.7 393.2,320.5 393.4,320.2 393.6,320.6 393.8,321.1 393.9,321.3 394.1,321.2 394.3,321.1 394.5,320.9 394.7,320.8 394.9,321.0 395.1,321.2 395.3,321.2 395.5,320.7 395.6,320.5 395.8,320.4 396.0,320.7 396.2,320.8 396.4,320.9 396.6,320.7 396.8,321.0 397.0,320.9 397.1,320.9 397.3,321.1 397.5,321.4 397.7,321.1 397.9,320.8 398.1,321.0 398.3,321.2 398.5,320.9 398.7,320.6 398.9,320.4 399.0,320.7 399.2,321.0 399.4,321.0 399.6,320.9 399.8,321.0 400.0,320.9 400.2,320.9 400.4,321.0 400.5,320.8 400.7,320.7 400.9,321.1 401.1,321.4 401.3,321.3 401.5,321.0 401.7,320.9 401.9,321.1 402.1,321.4 402.2,321.4 402.4,321.1 402.6,321.0 402.8,321.0 403.0,321.0 403.2,320.5 403.4,320.3 403.6,320.5 403.7,320.8 403.9,320.9 404.1,320.8 404.3,320.8 404.5,320.8 404.7,320.9 404.9,321.0 405.1,321.0 405.2,320.9 405.4,320.8 405.6,320.9 405.8,320.9 406.0,321.0 406.2,321.1 406.4,321.0 406.6,320.8 406.8,320.7 406.9,320.7 407.1,320.8 407.3,320.8 407.5,320.6 407.7,320.5 407.9,320.7 408.1,320.9 408.3,321.1 408.4,321.1 408.6,320.7 408.8,320.4 409.0,320.3 409.2,320.3 409.4,320.5 409.6,320.9 409.8,321.0 409.9,320.7 410.1,320.6 410.3,320.5 410.5,320.5 410.7,320.6 410.9,321.0 411.1,321.0 411.3,321.0 411.5,320.8 411.6,320.9 411.8,320.8 412.0,320.8 412.2,320.8 412.4,320.7 412.6,320.6 412.8,320.7 413.0,320.9 413.1,321.1 413.3,321.2 413.5,320.8 413.7,320.4 413.9,320.2 414.1,320.3 414.3,320.6 414.5,320.7 414.7,320.5 414.8,320.4 415.0,320.6 415.2,320.9 415.4,321.1 415.6,321.1 415.8,321.1 416.0,321.1 416.2,320.9 416.4,320.6 416.5,320.6 416.7,320.8 416.9,321.2 417.1,321.1 417.3,320.8 417.5,320.5 417.7,320.4 417.9,320.4 418.0,320.8 418.2,320.7 418.4,320.2 418.6,320.3 418.8,320.6 419.0,320.7 419.2,320.5 419.4,320.7 419.6,320.8 419.7,321.0 419.9,321.0 420.1,320.9 420.3,320.9 420.5,321.1 420.7,321.3 420.9,321.1 421.1,320.7 421.2,320.5 421.4,320.6 421.6,320.7 421.8,320.7 422.0,320.7 422.2,320.8 422.4,320.9 422.6,320.8 422.8,320.9 422.9,320.7 423.1,320.8 423.3,320.9 423.5,321.0 423.7,320.9 423.9,321.0 424.1,321.1 424.2,321.0 424.4,320.8 424.6,320.5 424.8,320.4 425.0,320.5 425.2,320.7 425.4,320.9 425.6,320.9 425.8,320.7 425.9,320.7 426.1,321.1 426.3,321.2 426.5,320.9 426.7,320.5 426.9,320.5 427.1,320.7 427.3,320.9 427.4,321.0 427.6,321.0 427.8,320.8 428.0,320.8 428.2,320.7 428.4,320.6 428.6,320.6 428.8,320.6 429.0,320.6 429.1,320.5 429.3,320.3 429.5,320.3 429.7,320.6 429.9,320.7 430.1,320.5 430.3,320.4 430.5,320.7 430.6,320.7 430.8,320.9 431.0,320.7 431.2,320.8 431.4,320.6 431.6,320.6 431.8,320.7 432.0,320.9 432.2,320.9 432.4,320.6 432.5,320.7 432.7,321.1 432.9,321.2 433.1,320.8 433.3,320.7 433.5,320.7 433.7,320.9 433.9,320.8 434.0,320.6 434.2,320.5 434.4,320.7 434.6,321.0 434.8,321.1 435.0,320.9 435.2,320.9 435.4,320.9 435.6,320.7 435.7,320.6 435.9,320.8 436.1,320.8 436.3,320.8 436.5,320.9 436.7,320.7 436.9,320.4 437.1,320.5 437.2,320.9 437.4,321.0 437.6,320.8 437.8,320.7 438.0,320.7 438.2,320.6 438.4,320.4 438.6,320.4 438.7,320.8 438.9,321.1 439.1,321.1 439.3,320.6 439.5,320.2 439.7,320.3 439.9,320.3 440.1,320.4 440.2,320.7 440.4,320.7 440.6,320.3 440.8,320.0 441.0,320.2 441.2,320.7 441.4,320.8 441.6,320.3 441.8,320.1 441.9,320.5 442.1,320.9 442.3,320.9 442.5,320.8 442.7,320.8 442.9,320.7 443.1,320.7 443.3,320.8 443.4,320.7 443.6,320.3 443.8,320.2 444.0,320.2 444.2,320.5 444.4,320.6 444.6,320.6 444.8,320.9 445.0,321.1 445.1,320.7 445.3,320.3 445.5,320.2 445.7,320.2 445.9,320.1 446.1,320.1 446.3,320.3 446.5,320.5 446.6,320.5 446.8,320.6 447.0,320.8 447.2,321.0 447.4,320.7 447.6,320.7 447.8,320.7 448.0,320.8 448.1,320.9 448.3,320.8 448.5,320.4 448.7,320.5 448.9,320.9 449.1,320.8 449.3,320.6 449.5,320.5 449.7,320.4 449.9,320.3 450.0,320.2 450.2,320.2 450.4,320.3 450.6,320.3 450.8,320.4 451.0,320.4 451.2,320.6 451.4,320.6 451.5,320.8 451.7,320.8 451.9,320.7 452.1,320.5 452.3,320.4 452.5,320.3 452.7,320.2 452.9,320.2 453.1,320.4 453.2,320.4 453.4,320.2 453.6,320.3 453.8,320.3 454.0,320.3 454.2,320.2 454.4,320.3 454.6,320.3 454.7,320.1 454.9,319.7 455.1,319.6 455.3,319.7 455.5,319.9 455.7,320.1 455.9,320.0 456.1,319.5 456.2,319.4 456.4,319.8 456.6,319.9 456.8,319.7 457.0,319.5 457.2,319.4 457.4,319.3 457.6,319.2 457.8,318.7 457.9,318.0 458.1,317.7 458.3,317.5 458.5,317.2 458.7,316.9 458.9,316.6 459.1,316.5 459.3,316.5 459.4,316.2 459.6,316.0 459.8,316.1 460.0,316.6 460.2,317.0 460.4,317.2 460.6,317.2 460.8,317.0 460.9,316.9 461.1,317.1 461.3,317.2 461.5,317.1 461.7,317.5 461.9,317.6 462.1,317.5 462.3,317.4 462.5,317.7 462.6,317.4 462.8,316.9 463.0,316.6 463.2,316.5 463.4,316.2 463.6,315.8" fill="none" stroke="#0000ff" stroke-width="1.45" stroke-linejoin="round" stroke-linecap="round"/>
<polyline points="463.4,316.2 463.6,315.8 463.8,315.2 464.0,314.8 464.1,314.0 464.3,313.0 464.5,312.0 464.7,310.9 464.9,309.4 465.1,307.6 465.3,305.9 465.5,303.8 465.7,301.5 465.9,299.1 466.0,296.6 466.2,293.7 466.4,291.4 466.6,289.9 466.7,289.4 466.8,289.2 467.0,289.6 467.2,290.7 467.4,291.7 467.5,293.0 467.7,294.6 467.9,295.9 468.1,296.3 468.3,296.8 468.5,297.7 468.7,299.2 468.9,300.7 469.0,302.4 469.2,304.3 469.4,306.2 469.6,307.8 469.8,309.4 470.0,310.9 470.2,312.1 470.4,313.2 470.6,313.9 470.7,314.5 470.9,315.1 471.1,315.9 471.3,316.3 471.5,316.8 471.7,316.9 471.9,317.1 472.1,317.4 472.2,317.9 472.4,318.0 472.6,317.8 472.8,318.0 473.0,318.2 473.2,318.4 473.4,318.4 473.6,318.6 473.8,318.9 473.9,319.4 474.1,319.5 474.3,319.0 474.5,318.8 474.7,318.8 474.9,318.9 475.1,319.0 475.3,318.8 475.4,318.6 475.6,318.5 475.8,318.5 476.0,318.4 476.2,318.1 476.4,317.6 476.6,316.8 476.8,315.2 476.9,311.8 477.1,305.0 477.3,293.7 477.5,280.4 477.7,272.8 477.9,280.4 478.1,294.3 478.3,305.3 478.4,311.4 478.6,314.5 478.8,315.3 479.0,314.4 479.2,310.9 479.4,304.9 479.6,298.8 479.7,297.1 479.8,297.6 480.0,303.4 480.1,310.0 480.3,314.5 480.5,316.8 480.7,317.9 480.9,318.6 481.1,319.0 481.3,319.2 481.5,319.2 481.6,319.5" fill="none" stroke="#0000ff" stroke-width="1.2" stroke-linejoin="round" stroke-linecap="round"/>
<polyline points="481.5,319.2 481.6,319.5 481.8,319.7 482.0,319.9 482.2,320.1 482.4,320.0 482.6,319.6 482.8,319.4 483.0,319.9 483.2,320.1 483.4,320.1 483.5,319.9 483.7,320.0 483.9,319.9 484.1,320.0 484.3,319.7 484.5,319.4 484.7,319.6 484.9,320.3 485.0,320.3 485.2,320.3 485.4,320.6 485.6,320.8 485.8,320.5 486.0,320.3 486.2,320.3 486.4,320.2 486.6,320.1 486.7,320.1 486.9,320.4 487.1,320.6 487.3,320.6 487.5,320.2 487.7,320.1 487.9,320.3 488.1,320.4 488.2,320.3 488.4,320.3 488.6,320.4 488.8,320.6 489.0,320.6 489.2,320.4 489.4,319.9 489.6,320.0 489.8,320.2 489.9,320.3 490.1,320.2 490.3,320.0 490.5,319.9 490.7,319.7 490.9,319.7 491.1,319.8 491.2,320.3 491.4,320.6 491.6,320.6 491.8,320.4 492.0,320.4 492.2,320.4 492.4,320.2 492.6,320.1 492.8,320.5 492.9,320.8 493.1,320.4 493.3,320.1 493.5,320.6 493.7,320.8 493.9,320.9 494.1,320.9 494.3,320.9 494.4,320.4 494.6,320.3 494.8,320.1 495.0,319.9 495.2,319.7 495.4,320.0 495.6,320.1 495.8,320.3 496.0,320.3 496.1,320.4 496.3,320.3 496.5,320.3 496.7,320.3 496.9,320.2 497.1,320.3 497.3,320.2 497.5,320.0 497.6,319.9 497.8,320.0 498.0,320.4 498.2,320.8 498.4,320.8 498.6,320.7 498.8,320.6 499.0,320.6 499.2,320.6 499.4,320.6 499.5,320.4 499.7,320.3 499.9,320.5 500.1,320.5 500.3,320.4 500.5,320.1 500.7,320.4 500.9,320.7 501.0,320.8 501.2,320.2 501.4,319.9 501.6,320.2 501.8,320.3 502.0,320.1 502.2,320.1 502.4,320.0 502.5,320.0 502.7,320.2 502.9,320.5 503.1,320.3 503.3,320.1 503.5,320.0 503.7,320.2 503.9,320.2 504.1,320.4 504.2,320.5 504.4,320.3 504.6,320.2 504.8,320.4 505.0,320.5 505.2,320.3 505.4,320.1 505.6,320.0 505.7,319.8 505.9,319.8 506.1,320.0 506.3,320.6 506.5,320.7 506.7,320.3 506.9,320.2 507.1,320.4 507.2,320.5 507.4,320.4 507.6,320.3 507.8,320.3 508.0,320.1 508.2,320.2 508.4,320.1 508.6,320.1 508.8,319.9 508.9,320.2 509.1,320.5 509.3,320.6 509.5,320.6 509.7,320.5 509.9,320.5 510.1,320.1 510.3,319.7 510.4,319.4 510.6,319.6 510.8,320.0 511.0,320.3 511.2,320.3 511.4,320.3 511.6,320.2 511.8,319.9 511.9,319.7 512.1,319.9 512.3,320.4 512.5,320.5 512.7,320.1 512.9,320.1 513.1,320.6 513.3,320.6 513.5,320.4 513.6,320.4 513.8,320.3 514.0,320.0 514.2,319.9 514.4,320.1 514.6,320.4 514.8,320.7 515.0,320.8 515.1,320.3 515.3,320.3 515.5,320.4 515.7,320.5 515.9,320.2 516.1,320.0 516.3,320.0 516.5,320.2 516.7,320.6 516.9,320.7 517.0,320.6 517.2,320.4 517.4,320.2 517.6,320.3 517.8,320.5 518.0,320.4 518.2,320.3 518.4,320.4 518.5,320.6 518.7,320.5 518.9,320.3 519.1,320.3 519.3,320.5 519.5,320.7 519.7,320.4 519.9,320.2 520.0,320.1 520.2,320.1 520.4,320.1 520.6,320.4 520.8,320.4" fill="none" stroke="#0000ff" stroke-width="1.45" stroke-linejoin="round" stroke-linecap="round"/>
</g>
<g id="axes" stroke="#000" stroke-width="1.6" fill="none">
<path d="M50.4,18 V401.2"/>
<path d="M49.6,397.7 H521.35" stroke-width="1.7"/>
<path d="M144.4,397.7 V404.8 M332.7,397.7 V404.8 M520.6,397.7 V404.8" stroke-width="1.5"/>
<path d="M238.4,397.7 V401.3 M426.6,397.7 V401.3" stroke-width="1.5"/>
</g>
<g font-size="15.7" text-anchor="middle">
<text x="144.4" y="422.6">40</text>
<text x="332.6" y="422.6">60</text>
<text x="520.6" y="422.6">80</text>
</g>
<g font-size="17.6"><text x="238.6" y="455">2</text><text transform="translate(248.3,455.4) scale(1.04,1)" font-family="'Liberation Serif',serif" font-size="19" style="font-family:'Liberation Serif',serif;stroke-width:0.1px">θ</text><text x="258.6" y="455">, </text><text x="268.3" y="455">degrees</text></g>
<text transform="translate(20.3,197.5) rotate(-90)" font-size="17.8" text-anchor="middle">Intensity, a.u.</text>
<g font-size="21.33">
<text x="414.2" y="115.4">Cu</text>
<text x="418.9" y="141.2">W</text>
<text x="394.3" y="167.5" style="stroke-width:0.1px">!</text><text x="406.3" y="167.5" font-size="21.15">Diamond</text>
</g>
<g font-size="18.5" text-anchor="middle">
<text x="398.4" y="112.9">*</text>
<text x="177.6" y="47.6">*</text>
<text x="244.6" y="258.65">*</text>
<text x="467.05" y="285.4">*</text>
</g>
<g font-size="22.5" text-anchor="middle" class="ex">
<text x="183" y="232.1">!</text>
<text x="477.9" y="270.2">!</text>
</g>
<g font-size="20.8" text-anchor="middle" class="pl">
<text x="400.3" y="140.7">+</text>
<text x="147.7" y="304.6">+</text>
<text x="317.6" y="313.8">+</text>
</g>
<g font-size="10.5" letter-spacing="0.12" class="sm">
<text x="331.1" y="315.1">Cu-2 vol.% W+D-HP920</text>
<text x="325.7" y="337.4">Cu-0.7 vol.% W+D-HP920</text>
<text x="263.4" y="356.9">Cu-0.35 vol.% W+D-HP920</text>
<text x="306.1" y="374.3">Cu-0.15 vol.% W+D-HP920</text>
</g>
</svg>
</body></html>
